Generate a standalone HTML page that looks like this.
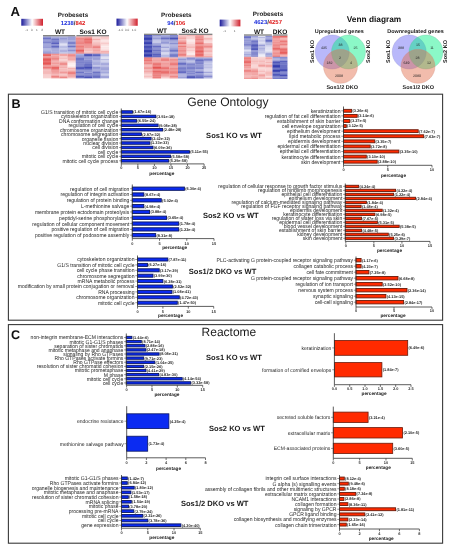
<!DOCTYPE html>
<html><head><meta charset="utf-8"><title>Figure</title>
<style>html,body{margin:0;padding:0;background:#fff;width:453px;height:550px;overflow:hidden;position:relative}</style>
</head><body>
<svg width="453" height="550" viewBox="0 0 453 550" text-rendering="geometricPrecision" style="position:absolute;left:0;top:0;font-family:&quot;Liberation Sans&quot;, Arial, Helvetica, sans-serif">
<rect width="453" height="550" fill="#fff"/>
<text x="10.60" y="16.00" font-size="13.2" text-anchor="start" font-weight="bold" fill="#111">A</text>
<defs><linearGradient id="g1" x1="0" x2="1" y1="0" y2="0"><stop offset="0" stop-color="#1a1a9a"/><stop offset="0.5" stop-color="#ffffff"/><stop offset="1" stop-color="#d0202c"/></linearGradient></defs>
<rect x="21.3" y="18.8" width="21.7" height="6.899999999999999" fill="url(#g1)"/>
<text x="26.60" y="30.90" font-size="3.1" text-anchor="middle" fill="#555">-1</text>
<text x="31.80" y="30.90" font-size="3.1" text-anchor="middle" fill="#555">0</text>
<text x="36.90" y="30.90" font-size="3.1" text-anchor="middle" fill="#555">1</text>
<text x="42.20" y="30.90" font-size="3.1" text-anchor="middle" fill="#555">2</text>
<defs><linearGradient id="g2" x1="0" x2="1" y1="0" y2="0"><stop offset="0" stop-color="#1a1a9a"/><stop offset="0.5" stop-color="#ffffff"/><stop offset="1" stop-color="#d0202c"/></linearGradient></defs>
<rect x="116.5" y="18.6" width="21.19999999999999" height="7.199999999999999" fill="url(#g2)"/>
<text x="120.50" y="31.00" font-size="3.1" text-anchor="middle" fill="#555">-1.0</text>
<text x="127.10" y="31.00" font-size="3.1" text-anchor="middle" fill="#555">0.0</text>
<text x="134.00" y="31.00" font-size="3.1" text-anchor="middle" fill="#555">1.0</text>
<defs><linearGradient id="g3" x1="0" x2="1" y1="0" y2="0"><stop offset="0" stop-color="#1a1a9a"/><stop offset="0.5" stop-color="#ffffff"/><stop offset="1" stop-color="#d0202c"/></linearGradient></defs>
<rect x="219.7" y="19.6" width="20.700000000000017" height="6.799999999999997" fill="url(#g3)"/>
<text x="224.50" y="31.60" font-size="3.1" text-anchor="middle" fill="#555">-1</text>
<text x="234.50" y="31.60" font-size="3.1" text-anchor="middle" fill="#555">1</text>
<text x="73.00" y="16.60" font-size="6.3" text-anchor="middle" font-weight="bold" fill="#1a1a1a">Probesets</text>
<text x="73.00" y="25.00" font-size="5.9" text-anchor="middle" font-weight="bold"><tspan fill="#2233dd">1238</tspan><tspan fill="#222">/</tspan><tspan fill="#e02020">842</tspan></text>
<text x="60.00" y="34.00" font-size="6.5" text-anchor="middle" font-weight="bold" fill="#111">WT</text>
<text x="93.00" y="34.00" font-size="6.5" text-anchor="middle" font-weight="bold" fill="#111">Sos1 KO</text>
<text x="176.30" y="16.60" font-size="6.3" text-anchor="middle" font-weight="bold" fill="#1a1a1a">Probesets</text>
<text x="176.30" y="25.00" font-size="5.9" text-anchor="middle" font-weight="bold"><tspan fill="#2233dd">94</tspan><tspan fill="#222">/</tspan><tspan fill="#e02020">106</tspan></text>
<text x="162.00" y="32.80" font-size="6.5" text-anchor="middle" font-weight="bold" fill="#111">WT</text>
<text x="195.00" y="32.80" font-size="6.5" text-anchor="middle" font-weight="bold" fill="#111">Sos2 KO</text>
<text x="268.00" y="15.90" font-size="6.3" text-anchor="middle" font-weight="bold" fill="#1a1a1a">Probesets</text>
<text x="268.00" y="24.30" font-size="5.9" text-anchor="middle" font-weight="bold"><tspan fill="#2233dd">4623</tspan><tspan fill="#222">/</tspan><tspan fill="#e02020">4257</tspan></text>
<text x="259.00" y="33.50" font-size="6.5" text-anchor="middle" font-weight="bold" fill="#111">WT</text>
<text x="280.00" y="33.50" font-size="6.5" text-anchor="middle" font-weight="bold" fill="#111">DKO</text>
<rect x="43.00" y="36.40" width="8.25" height="1.38" fill="#8086cd"/>
<rect x="43.00" y="37.73" width="8.25" height="1.38" fill="#6c73c5"/>
<rect x="43.00" y="39.06" width="8.25" height="1.38" fill="#888dd0"/>
<rect x="43.00" y="40.39" width="8.25" height="1.38" fill="#7b81cb"/>
<rect x="43.00" y="41.72" width="8.25" height="1.38" fill="#7d83cc"/>
<rect x="43.00" y="43.05" width="8.25" height="1.38" fill="#969bd5"/>
<rect x="43.00" y="44.38" width="8.25" height="1.38" fill="#878dd0"/>
<rect x="43.00" y="45.72" width="8.25" height="1.38" fill="#9fa3d9"/>
<rect x="43.00" y="47.05" width="8.25" height="1.38" fill="#9398d4"/>
<rect x="43.00" y="48.38" width="8.25" height="1.38" fill="#a5aadc"/>
<rect x="43.00" y="49.71" width="8.25" height="1.38" fill="#b1b5e0"/>
<rect x="43.00" y="51.04" width="8.25" height="1.38" fill="#a2a6da"/>
<rect x="43.00" y="52.37" width="8.25" height="1.38" fill="#797fca"/>
<rect x="51.20" y="36.40" width="8.25" height="1.38" fill="#a0a5d9"/>
<rect x="51.20" y="37.73" width="8.25" height="1.38" fill="#8d92d2"/>
<rect x="51.20" y="39.06" width="8.25" height="1.38" fill="#686fc3"/>
<rect x="51.20" y="40.39" width="8.25" height="1.38" fill="#666ec3"/>
<rect x="51.20" y="41.72" width="8.25" height="1.38" fill="#7379c8"/>
<rect x="51.20" y="43.05" width="8.25" height="1.38" fill="#525abb"/>
<rect x="51.20" y="44.38" width="8.25" height="1.38" fill="#7d83cc"/>
<rect x="51.20" y="45.72" width="8.25" height="1.38" fill="#6269c1"/>
<rect x="51.20" y="47.05" width="8.25" height="1.38" fill="#777ec9"/>
<rect x="51.20" y="48.38" width="8.25" height="1.38" fill="#9297d4"/>
<rect x="51.20" y="49.71" width="8.25" height="1.38" fill="#a8acdd"/>
<rect x="51.20" y="51.04" width="8.25" height="1.38" fill="#aaaedd"/>
<rect x="51.20" y="52.37" width="8.25" height="1.38" fill="#878dd0"/>
<rect x="59.40" y="36.40" width="8.25" height="1.38" fill="#a1a6da"/>
<rect x="59.40" y="37.73" width="8.25" height="1.38" fill="#959ad5"/>
<rect x="59.40" y="39.06" width="8.25" height="1.38" fill="#9fa3d9"/>
<rect x="59.40" y="40.39" width="8.25" height="1.38" fill="#9a9ed7"/>
<rect x="59.40" y="41.72" width="8.25" height="1.38" fill="#b9bce3"/>
<rect x="59.40" y="43.05" width="8.25" height="1.38" fill="#d1d3ed"/>
<rect x="59.40" y="44.38" width="8.25" height="1.38" fill="#d8daf0"/>
<rect x="59.40" y="45.72" width="8.25" height="1.38" fill="#bbbee4"/>
<rect x="59.40" y="47.05" width="8.25" height="1.38" fill="#b7bbe3"/>
<rect x="59.40" y="48.38" width="8.25" height="1.38" fill="#bdc0e5"/>
<rect x="59.40" y="49.71" width="8.25" height="1.38" fill="#aeb1df"/>
<rect x="59.40" y="51.04" width="8.25" height="1.38" fill="#acafde"/>
<rect x="59.40" y="52.37" width="8.25" height="1.38" fill="#b5b9e2"/>
<rect x="67.60" y="36.40" width="8.25" height="1.38" fill="#8187cd"/>
<rect x="67.60" y="37.73" width="8.25" height="1.38" fill="#9ba0d8"/>
<rect x="67.60" y="39.06" width="8.25" height="1.38" fill="#979cd6"/>
<rect x="67.60" y="40.39" width="8.25" height="1.38" fill="#979cd6"/>
<rect x="67.60" y="41.72" width="8.25" height="1.38" fill="#7d83cc"/>
<rect x="67.60" y="43.05" width="8.25" height="1.38" fill="#757bc8"/>
<rect x="67.60" y="44.38" width="8.25" height="1.38" fill="#8f94d3"/>
<rect x="67.60" y="45.72" width="8.25" height="1.38" fill="#6f76c6"/>
<rect x="67.60" y="47.05" width="8.25" height="1.38" fill="#979cd6"/>
<rect x="67.60" y="48.38" width="8.25" height="1.38" fill="#9fa3d9"/>
<rect x="67.60" y="49.71" width="8.25" height="1.38" fill="#8c91d1"/>
<rect x="67.60" y="51.04" width="8.25" height="1.38" fill="#aaaedd"/>
<rect x="67.60" y="52.37" width="8.25" height="1.38" fill="#a8acdd"/>
<rect x="75.80" y="36.40" width="8.35" height="1.38" fill="#f09e9d"/>
<rect x="75.80" y="37.73" width="8.35" height="1.38" fill="#ed8a89"/>
<rect x="75.80" y="39.06" width="8.35" height="1.38" fill="#ed8887"/>
<rect x="75.80" y="40.39" width="8.35" height="1.38" fill="#ea7371"/>
<rect x="75.80" y="41.72" width="8.35" height="1.38" fill="#ed8786"/>
<rect x="75.80" y="43.05" width="8.35" height="1.38" fill="#ec7e7d"/>
<rect x="75.80" y="44.38" width="8.35" height="1.38" fill="#ec7d7c"/>
<rect x="75.80" y="45.72" width="8.35" height="1.38" fill="#ec7e7d"/>
<rect x="75.80" y="47.05" width="8.35" height="1.38" fill="#ed8785"/>
<rect x="75.80" y="48.38" width="8.35" height="1.38" fill="#ea7472"/>
<rect x="75.80" y="49.71" width="8.35" height="1.38" fill="#e75f5d"/>
<rect x="75.80" y="51.04" width="8.35" height="1.38" fill="#e96e6d"/>
<rect x="75.80" y="52.37" width="8.35" height="1.38" fill="#e96d6c"/>
<rect x="84.10" y="36.40" width="8.35" height="1.38" fill="#ee8d8c"/>
<rect x="84.10" y="37.73" width="8.35" height="1.38" fill="#ec8281"/>
<rect x="84.10" y="39.06" width="8.35" height="1.38" fill="#e86361"/>
<rect x="84.10" y="40.39" width="8.35" height="1.38" fill="#e65755"/>
<rect x="84.10" y="41.72" width="8.35" height="1.38" fill="#ea7170"/>
<rect x="84.10" y="43.05" width="8.35" height="1.38" fill="#ec7e7d"/>
<rect x="84.10" y="44.38" width="8.35" height="1.38" fill="#ea7574"/>
<rect x="84.10" y="45.72" width="8.35" height="1.38" fill="#f09998"/>
<rect x="84.10" y="47.05" width="8.35" height="1.38" fill="#ef9796"/>
<rect x="84.10" y="48.38" width="8.35" height="1.38" fill="#f2a9a8"/>
<rect x="84.10" y="49.71" width="8.35" height="1.38" fill="#f5bab9"/>
<rect x="84.10" y="51.04" width="8.35" height="1.38" fill="#f7caca"/>
<rect x="84.10" y="52.37" width="8.35" height="1.38" fill="#f2a8a7"/>
<rect x="92.40" y="36.40" width="8.35" height="1.38" fill="#f8cfce"/>
<rect x="92.40" y="37.73" width="8.35" height="1.38" fill="#f8cecd"/>
<rect x="92.40" y="39.06" width="8.35" height="1.38" fill="#f3adac"/>
<rect x="92.40" y="40.39" width="8.35" height="1.38" fill="#f7c9c8"/>
<rect x="92.40" y="41.72" width="8.35" height="1.38" fill="#f6c6c5"/>
<rect x="92.40" y="43.05" width="8.35" height="1.38" fill="#f5bcbc"/>
<rect x="92.40" y="44.38" width="8.35" height="1.38" fill="#f1a09f"/>
<rect x="92.40" y="45.72" width="8.35" height="1.38" fill="#ee8e8d"/>
<rect x="92.40" y="47.05" width="8.35" height="1.38" fill="#ec7e7d"/>
<rect x="92.40" y="48.38" width="8.35" height="1.38" fill="#f09998"/>
<rect x="92.40" y="49.71" width="8.35" height="1.38" fill="#f1a4a3"/>
<rect x="92.40" y="51.04" width="8.35" height="1.38" fill="#f3afaf"/>
<rect x="92.40" y="52.37" width="8.35" height="1.38" fill="#ef9695"/>
<rect x="100.70" y="36.40" width="8.35" height="1.38" fill="#f4b9b8"/>
<rect x="100.70" y="37.73" width="8.35" height="1.38" fill="#f8cdcd"/>
<rect x="100.70" y="39.06" width="8.35" height="1.38" fill="#f9d9d8"/>
<rect x="100.70" y="40.39" width="8.35" height="1.38" fill="#fbe2e1"/>
<rect x="100.70" y="41.72" width="8.35" height="1.38" fill="#f9d8d7"/>
<rect x="100.70" y="43.05" width="8.35" height="1.38" fill="#f7c9c9"/>
<rect x="100.70" y="44.38" width="8.35" height="1.38" fill="#f9d4d3"/>
<rect x="100.70" y="45.72" width="8.35" height="1.38" fill="#fceded"/>
<rect x="100.70" y="47.05" width="8.35" height="1.38" fill="#fbe4e4"/>
<rect x="100.70" y="48.38" width="8.35" height="1.38" fill="#fbe1e1"/>
<rect x="100.70" y="49.71" width="8.35" height="1.38" fill="#f8d2d2"/>
<rect x="100.70" y="51.04" width="8.35" height="1.38" fill="#f3adac"/>
<rect x="100.70" y="52.37" width="8.35" height="1.38" fill="#f1a3a2"/>
<rect x="43.00" y="53.70" width="8.25" height="1.34" fill="#e9706e"/>
<rect x="43.00" y="54.99" width="8.25" height="1.34" fill="#e86664"/>
<rect x="43.00" y="56.29" width="8.25" height="1.34" fill="#ed8887"/>
<rect x="43.00" y="57.58" width="8.25" height="1.34" fill="#e96a68"/>
<rect x="43.00" y="58.88" width="8.25" height="1.34" fill="#e65b59"/>
<rect x="43.00" y="60.17" width="8.25" height="1.34" fill="#e44948"/>
<rect x="43.00" y="61.47" width="8.25" height="1.34" fill="#e34846"/>
<rect x="43.00" y="62.76" width="8.25" height="1.34" fill="#e65654"/>
<rect x="43.00" y="64.06" width="8.25" height="1.34" fill="#e86564"/>
<rect x="43.00" y="65.35" width="8.25" height="1.34" fill="#ed8483"/>
<rect x="43.00" y="66.65" width="8.25" height="1.34" fill="#eb7877"/>
<rect x="43.00" y="67.94" width="8.25" height="1.34" fill="#ef9594"/>
<rect x="43.00" y="69.24" width="8.25" height="1.34" fill="#f2aaa9"/>
<rect x="43.00" y="70.53" width="8.25" height="1.34" fill="#f3b1b0"/>
<rect x="43.00" y="71.83" width="8.25" height="1.34" fill="#f4b9b8"/>
<rect x="43.00" y="73.12" width="8.25" height="1.34" fill="#f4b3b2"/>
<rect x="43.00" y="74.42" width="8.25" height="1.34" fill="#f6c1c1"/>
<rect x="43.00" y="75.71" width="8.25" height="1.34" fill="#f8d0cf"/>
<rect x="43.00" y="77.01" width="8.25" height="1.34" fill="#f8d1d0"/>
<rect x="51.20" y="53.70" width="8.25" height="1.34" fill="#ef9291"/>
<rect x="51.20" y="54.99" width="8.25" height="1.34" fill="#f2abaa"/>
<rect x="51.20" y="56.29" width="8.25" height="1.34" fill="#ed8584"/>
<rect x="51.20" y="57.58" width="8.25" height="1.34" fill="#eb7b79"/>
<rect x="51.20" y="58.88" width="8.25" height="1.34" fill="#ee9190"/>
<rect x="51.20" y="60.17" width="8.25" height="1.34" fill="#f09b9a"/>
<rect x="51.20" y="61.47" width="8.25" height="1.34" fill="#f09c9b"/>
<rect x="51.20" y="62.76" width="8.25" height="1.34" fill="#f09c9b"/>
<rect x="51.20" y="64.06" width="8.25" height="1.34" fill="#f2acab"/>
<rect x="51.20" y="65.35" width="8.25" height="1.34" fill="#ed8887"/>
<rect x="51.20" y="66.65" width="8.25" height="1.34" fill="#e86462"/>
<rect x="51.20" y="67.94" width="8.25" height="1.34" fill="#e96b69"/>
<rect x="51.20" y="69.24" width="8.25" height="1.34" fill="#e96f6e"/>
<rect x="51.20" y="70.53" width="8.25" height="1.34" fill="#ee8d8b"/>
<rect x="51.20" y="71.83" width="8.25" height="1.34" fill="#f1a1a1"/>
<rect x="51.20" y="73.12" width="8.25" height="1.34" fill="#f1a1a0"/>
<rect x="51.20" y="74.42" width="8.25" height="1.34" fill="#f2a6a6"/>
<rect x="51.20" y="75.71" width="8.25" height="1.34" fill="#ed8584"/>
<rect x="51.20" y="77.01" width="8.25" height="1.34" fill="#f09897"/>
<rect x="59.40" y="53.70" width="8.25" height="1.34" fill="#f1a5a4"/>
<rect x="59.40" y="54.99" width="8.25" height="1.34" fill="#f2a5a4"/>
<rect x="59.40" y="56.29" width="8.25" height="1.34" fill="#f5bfbe"/>
<rect x="59.40" y="57.58" width="8.25" height="1.34" fill="#f4b8b7"/>
<rect x="59.40" y="58.88" width="8.25" height="1.34" fill="#f9d4d4"/>
<rect x="59.40" y="60.17" width="8.25" height="1.34" fill="#f7c9c8"/>
<rect x="59.40" y="61.47" width="8.25" height="1.34" fill="#f1a3a2"/>
<rect x="59.40" y="62.76" width="8.25" height="1.34" fill="#ee8e8d"/>
<rect x="59.40" y="64.06" width="8.25" height="1.34" fill="#ed8988"/>
<rect x="59.40" y="65.35" width="8.25" height="1.34" fill="#f1a2a1"/>
<rect x="59.40" y="66.65" width="8.25" height="1.34" fill="#f3aead"/>
<rect x="59.40" y="67.94" width="8.25" height="1.34" fill="#f6c4c3"/>
<rect x="59.40" y="69.24" width="8.25" height="1.34" fill="#f3acab"/>
<rect x="59.40" y="70.53" width="8.25" height="1.34" fill="#f2abaa"/>
<rect x="59.40" y="71.83" width="8.25" height="1.34" fill="#f09998"/>
<rect x="59.40" y="73.12" width="8.25" height="1.34" fill="#f2a9a9"/>
<rect x="59.40" y="74.42" width="8.25" height="1.34" fill="#f5bdbc"/>
<rect x="59.40" y="75.71" width="8.25" height="1.34" fill="#f1a5a4"/>
<rect x="59.40" y="77.01" width="8.25" height="1.34" fill="#ed8786"/>
<rect x="67.60" y="53.70" width="8.25" height="1.34" fill="#ef9695"/>
<rect x="67.60" y="54.99" width="8.25" height="1.34" fill="#ed8a89"/>
<rect x="67.60" y="56.29" width="8.25" height="1.34" fill="#ed8685"/>
<rect x="67.60" y="57.58" width="8.25" height="1.34" fill="#f1a5a4"/>
<rect x="67.60" y="58.88" width="8.25" height="1.34" fill="#f2a9a8"/>
<rect x="67.60" y="60.17" width="8.25" height="1.34" fill="#f4b7b6"/>
<rect x="67.60" y="61.47" width="8.25" height="1.34" fill="#f9d6d6"/>
<rect x="67.60" y="62.76" width="8.25" height="1.34" fill="#fceeee"/>
<rect x="67.60" y="64.06" width="8.25" height="1.34" fill="#fdefef"/>
<rect x="67.60" y="65.35" width="8.25" height="1.34" fill="#fdf0ef"/>
<rect x="67.60" y="66.65" width="8.25" height="1.34" fill="#f9d7d7"/>
<rect x="67.60" y="67.94" width="8.25" height="1.34" fill="#f3b2b1"/>
<rect x="67.60" y="69.24" width="8.25" height="1.34" fill="#f4b7b6"/>
<rect x="67.60" y="70.53" width="8.25" height="1.34" fill="#f09b9a"/>
<rect x="67.60" y="71.83" width="8.25" height="1.34" fill="#ec8381"/>
<rect x="67.60" y="73.12" width="8.25" height="1.34" fill="#ea7271"/>
<rect x="67.60" y="74.42" width="8.25" height="1.34" fill="#ee8d8c"/>
<rect x="67.60" y="75.71" width="8.25" height="1.34" fill="#f2abaa"/>
<rect x="67.60" y="77.01" width="8.25" height="1.34" fill="#f6c0c0"/>
<rect x="75.80" y="53.70" width="8.35" height="1.34" fill="#adb1df"/>
<rect x="75.80" y="54.99" width="8.35" height="1.34" fill="#9ba0d7"/>
<rect x="75.80" y="56.29" width="8.35" height="1.34" fill="#797fca"/>
<rect x="75.80" y="57.58" width="8.35" height="1.34" fill="#646bc2"/>
<rect x="75.80" y="58.88" width="8.35" height="1.34" fill="#6f75c6"/>
<rect x="75.80" y="60.17" width="8.35" height="1.34" fill="#6a71c4"/>
<rect x="75.80" y="61.47" width="8.35" height="1.34" fill="#5c63be"/>
<rect x="75.80" y="62.76" width="8.35" height="1.34" fill="#858bcf"/>
<rect x="75.80" y="64.06" width="8.35" height="1.34" fill="#7b81cb"/>
<rect x="75.80" y="65.35" width="8.35" height="1.34" fill="#6068c0"/>
<rect x="75.80" y="66.65" width="8.35" height="1.34" fill="#565ebc"/>
<rect x="75.80" y="67.94" width="8.35" height="1.34" fill="#5058ba"/>
<rect x="75.80" y="69.24" width="8.35" height="1.34" fill="#6067c0"/>
<rect x="75.80" y="70.53" width="8.35" height="1.34" fill="#8287cd"/>
<rect x="75.80" y="71.83" width="8.35" height="1.34" fill="#6e75c6"/>
<rect x="75.80" y="73.12" width="8.35" height="1.34" fill="#8187cd"/>
<rect x="75.80" y="74.42" width="8.35" height="1.34" fill="#6d74c5"/>
<rect x="75.80" y="75.71" width="8.35" height="1.34" fill="#515aba"/>
<rect x="75.80" y="77.01" width="8.35" height="1.34" fill="#676ec3"/>
<rect x="84.10" y="53.70" width="8.35" height="1.34" fill="#555dbc"/>
<rect x="84.10" y="54.99" width="8.35" height="1.34" fill="#4c54b8"/>
<rect x="84.10" y="56.29" width="8.35" height="1.34" fill="#6d74c5"/>
<rect x="84.10" y="57.58" width="8.35" height="1.34" fill="#898fd1"/>
<rect x="84.10" y="58.88" width="8.35" height="1.34" fill="#9da1d8"/>
<rect x="84.10" y="60.17" width="8.35" height="1.34" fill="#747bc8"/>
<rect x="84.10" y="61.47" width="8.35" height="1.34" fill="#5d65bf"/>
<rect x="84.10" y="62.76" width="8.35" height="1.34" fill="#7c82cb"/>
<rect x="84.10" y="64.06" width="8.35" height="1.34" fill="#6169c1"/>
<rect x="84.10" y="65.35" width="8.35" height="1.34" fill="#424bb4"/>
<rect x="84.10" y="66.65" width="8.35" height="1.34" fill="#424bb4"/>
<rect x="84.10" y="67.94" width="8.35" height="1.34" fill="#5961bd"/>
<rect x="84.10" y="69.24" width="8.35" height="1.34" fill="#5b63be"/>
<rect x="84.10" y="70.53" width="8.35" height="1.34" fill="#7c82cb"/>
<rect x="84.10" y="71.83" width="8.35" height="1.34" fill="#9da1d8"/>
<rect x="84.10" y="73.12" width="8.35" height="1.34" fill="#6f76c6"/>
<rect x="84.10" y="74.42" width="8.35" height="1.34" fill="#656cc2"/>
<rect x="84.10" y="75.71" width="8.35" height="1.34" fill="#666dc3"/>
<rect x="84.10" y="77.01" width="8.35" height="1.34" fill="#4952b7"/>
<rect x="92.40" y="53.70" width="8.35" height="1.34" fill="#6f75c6"/>
<rect x="92.40" y="54.99" width="8.35" height="1.34" fill="#5d64bf"/>
<rect x="92.40" y="56.29" width="8.35" height="1.34" fill="#7c82cb"/>
<rect x="92.40" y="57.58" width="8.35" height="1.34" fill="#9196d4"/>
<rect x="92.40" y="58.88" width="8.35" height="1.34" fill="#9ea2d8"/>
<rect x="92.40" y="60.17" width="8.35" height="1.34" fill="#abafde"/>
<rect x="92.40" y="61.47" width="8.35" height="1.34" fill="#9ba0d8"/>
<rect x="92.40" y="62.76" width="8.35" height="1.34" fill="#a8acdd"/>
<rect x="92.40" y="64.06" width="8.35" height="1.34" fill="#a5aadc"/>
<rect x="92.40" y="65.35" width="8.35" height="1.34" fill="#b9bce3"/>
<rect x="92.40" y="66.65" width="8.35" height="1.34" fill="#8e93d2"/>
<rect x="92.40" y="67.94" width="8.35" height="1.34" fill="#979cd6"/>
<rect x="92.40" y="69.24" width="8.35" height="1.34" fill="#969bd5"/>
<rect x="92.40" y="70.53" width="8.35" height="1.34" fill="#8c91d2"/>
<rect x="92.40" y="71.83" width="8.35" height="1.34" fill="#6d74c5"/>
<rect x="92.40" y="73.12" width="8.35" height="1.34" fill="#7980ca"/>
<rect x="92.40" y="74.42" width="8.35" height="1.34" fill="#5e66bf"/>
<rect x="92.40" y="75.71" width="8.35" height="1.34" fill="#686fc3"/>
<rect x="92.40" y="77.01" width="8.35" height="1.34" fill="#6d74c5"/>
<rect x="100.70" y="53.70" width="8.35" height="1.34" fill="#bec1e5"/>
<rect x="100.70" y="54.99" width="8.35" height="1.34" fill="#babde4"/>
<rect x="100.70" y="56.29" width="8.35" height="1.34" fill="#caccea"/>
<rect x="100.70" y="57.58" width="8.35" height="1.34" fill="#e3e4f4"/>
<rect x="100.70" y="58.88" width="8.35" height="1.34" fill="#bbbee4"/>
<rect x="100.70" y="60.17" width="8.35" height="1.34" fill="#cbceeb"/>
<rect x="100.70" y="61.47" width="8.35" height="1.34" fill="#c1c4e7"/>
<rect x="100.70" y="62.76" width="8.35" height="1.34" fill="#a8acdc"/>
<rect x="100.70" y="64.06" width="8.35" height="1.34" fill="#a1a5da"/>
<rect x="100.70" y="65.35" width="8.35" height="1.34" fill="#acb0de"/>
<rect x="100.70" y="66.65" width="8.35" height="1.34" fill="#a7abdc"/>
<rect x="100.70" y="67.94" width="8.35" height="1.34" fill="#a0a5d9"/>
<rect x="100.70" y="69.24" width="8.35" height="1.34" fill="#8a90d1"/>
<rect x="100.70" y="70.53" width="8.35" height="1.34" fill="#acafde"/>
<rect x="100.70" y="71.83" width="8.35" height="1.34" fill="#a3a8db"/>
<rect x="100.70" y="73.12" width="8.35" height="1.34" fill="#b4b7e1"/>
<rect x="100.70" y="74.42" width="8.35" height="1.34" fill="#bec1e5"/>
<rect x="100.70" y="75.71" width="8.35" height="1.34" fill="#a2a6da"/>
<rect x="100.70" y="77.01" width="8.35" height="1.34" fill="#a0a4d9"/>
<rect x="43.00" y="35.10" width="32.20" height="1.2" fill="#777"/>
<rect x="76.40" y="35.10" width="32.60" height="1.2" fill="#777"/>
<rect x="144.00" y="35.10" width="8.55" height="1.37" fill="#3d46b2"/>
<rect x="144.00" y="36.42" width="8.55" height="1.37" fill="#333cae"/>
<rect x="144.00" y="37.74" width="8.55" height="1.37" fill="#343eaf"/>
<rect x="144.00" y="39.05" width="8.55" height="1.37" fill="#343daf"/>
<rect x="144.00" y="40.37" width="8.55" height="1.37" fill="#3b44b2"/>
<rect x="144.00" y="41.69" width="8.55" height="1.37" fill="#4049b4"/>
<rect x="144.00" y="43.01" width="8.55" height="1.37" fill="#3740b0"/>
<rect x="144.00" y="44.32" width="8.55" height="1.37" fill="#414ab4"/>
<rect x="144.00" y="45.64" width="8.55" height="1.37" fill="#434cb5"/>
<rect x="144.00" y="46.96" width="8.55" height="1.37" fill="#4951b7"/>
<rect x="144.00" y="48.28" width="8.55" height="1.37" fill="#333cae"/>
<rect x="144.00" y="49.59" width="8.55" height="1.37" fill="#333cae"/>
<rect x="144.00" y="50.91" width="8.55" height="1.37" fill="#333cae"/>
<rect x="144.00" y="52.23" width="8.55" height="1.37" fill="#333cae"/>
<rect x="144.00" y="53.55" width="8.55" height="1.37" fill="#333cae"/>
<rect x="144.00" y="54.86" width="8.55" height="1.37" fill="#333cae"/>
<rect x="144.00" y="56.18" width="8.55" height="1.37" fill="#333cae"/>
<rect x="152.50" y="35.10" width="8.55" height="1.37" fill="#848ace"/>
<rect x="152.50" y="36.42" width="8.55" height="1.37" fill="#9da1d8"/>
<rect x="152.50" y="37.74" width="8.55" height="1.37" fill="#989dd6"/>
<rect x="152.50" y="39.05" width="8.55" height="1.37" fill="#b0b4e0"/>
<rect x="152.50" y="40.37" width="8.55" height="1.37" fill="#b5b9e2"/>
<rect x="152.50" y="41.69" width="8.55" height="1.37" fill="#c6c8e8"/>
<rect x="152.50" y="43.01" width="8.55" height="1.37" fill="#a6aadc"/>
<rect x="152.50" y="44.32" width="8.55" height="1.37" fill="#868ccf"/>
<rect x="152.50" y="45.64" width="8.55" height="1.37" fill="#666dc3"/>
<rect x="152.50" y="46.96" width="8.55" height="1.37" fill="#848ace"/>
<rect x="152.50" y="48.28" width="8.55" height="1.37" fill="#7278c7"/>
<rect x="152.50" y="49.59" width="8.55" height="1.37" fill="#686fc3"/>
<rect x="152.50" y="50.91" width="8.55" height="1.37" fill="#878ccf"/>
<rect x="152.50" y="52.23" width="8.55" height="1.37" fill="#676ec3"/>
<rect x="152.50" y="53.55" width="8.55" height="1.37" fill="#4a52b7"/>
<rect x="152.50" y="54.86" width="8.55" height="1.37" fill="#6a71c4"/>
<rect x="152.50" y="56.18" width="8.55" height="1.37" fill="#4d55b9"/>
<rect x="161.00" y="35.10" width="8.55" height="1.37" fill="#9ea2d9"/>
<rect x="161.00" y="36.42" width="8.55" height="1.37" fill="#787fca"/>
<rect x="161.00" y="37.74" width="8.55" height="1.37" fill="#686fc3"/>
<rect x="161.00" y="39.05" width="8.55" height="1.37" fill="#8d92d2"/>
<rect x="161.00" y="40.37" width="8.55" height="1.37" fill="#9499d5"/>
<rect x="161.00" y="41.69" width="8.55" height="1.37" fill="#9499d5"/>
<rect x="161.00" y="43.01" width="8.55" height="1.37" fill="#a1a5da"/>
<rect x="161.00" y="44.32" width="8.55" height="1.37" fill="#b5b8e2"/>
<rect x="161.00" y="45.64" width="8.55" height="1.37" fill="#bbbee4"/>
<rect x="161.00" y="46.96" width="8.55" height="1.37" fill="#a2a6da"/>
<rect x="161.00" y="48.28" width="8.55" height="1.37" fill="#c2c5e7"/>
<rect x="161.00" y="49.59" width="8.55" height="1.37" fill="#b4b7e1"/>
<rect x="161.00" y="50.91" width="8.55" height="1.37" fill="#b1b5e0"/>
<rect x="161.00" y="52.23" width="8.55" height="1.37" fill="#ced0ec"/>
<rect x="161.00" y="53.55" width="8.55" height="1.37" fill="#cdcfeb"/>
<rect x="161.00" y="54.86" width="8.55" height="1.37" fill="#b7bae2"/>
<rect x="161.00" y="56.18" width="8.55" height="1.37" fill="#aeb2df"/>
<rect x="169.50" y="35.10" width="8.55" height="1.37" fill="#747ac8"/>
<rect x="169.50" y="36.42" width="8.55" height="1.37" fill="#626ac1"/>
<rect x="169.50" y="37.74" width="8.55" height="1.37" fill="#4850b7"/>
<rect x="169.50" y="39.05" width="8.55" height="1.37" fill="#737ac8"/>
<rect x="169.50" y="40.37" width="8.55" height="1.37" fill="#888ed0"/>
<rect x="169.50" y="41.69" width="8.55" height="1.37" fill="#a8acdd"/>
<rect x="169.50" y="43.01" width="8.55" height="1.37" fill="#8b90d1"/>
<rect x="169.50" y="44.32" width="8.55" height="1.37" fill="#999ed7"/>
<rect x="169.50" y="45.64" width="8.55" height="1.37" fill="#afb2df"/>
<rect x="169.50" y="46.96" width="8.55" height="1.37" fill="#a9addd"/>
<rect x="169.50" y="48.28" width="8.55" height="1.37" fill="#8187cd"/>
<rect x="169.50" y="49.59" width="8.55" height="1.37" fill="#6a71c4"/>
<rect x="169.50" y="50.91" width="8.55" height="1.37" fill="#8288ce"/>
<rect x="169.50" y="52.23" width="8.55" height="1.37" fill="#9ca0d8"/>
<rect x="169.50" y="53.55" width="8.55" height="1.37" fill="#777dc9"/>
<rect x="169.50" y="54.86" width="8.55" height="1.37" fill="#747bc8"/>
<rect x="169.50" y="56.18" width="8.55" height="1.37" fill="#6970c4"/>
<rect x="178.00" y="35.10" width="8.65" height="1.37" fill="#f5bebd"/>
<rect x="178.00" y="36.42" width="8.65" height="1.37" fill="#f2a6a5"/>
<rect x="178.00" y="37.74" width="8.65" height="1.37" fill="#f1a5a4"/>
<rect x="178.00" y="39.05" width="8.65" height="1.37" fill="#f5bcbb"/>
<rect x="178.00" y="40.37" width="8.65" height="1.37" fill="#ef9493"/>
<rect x="178.00" y="41.69" width="8.65" height="1.37" fill="#ed8a89"/>
<rect x="178.00" y="43.01" width="8.65" height="1.37" fill="#eb7776"/>
<rect x="178.00" y="44.32" width="8.65" height="1.37" fill="#f09997"/>
<rect x="178.00" y="45.64" width="8.65" height="1.37" fill="#ec7f7d"/>
<rect x="178.00" y="46.96" width="8.65" height="1.37" fill="#f19f9e"/>
<rect x="178.00" y="48.28" width="8.65" height="1.37" fill="#ec8382"/>
<rect x="178.00" y="49.59" width="8.65" height="1.37" fill="#ed8988"/>
<rect x="178.00" y="50.91" width="8.65" height="1.37" fill="#ef9594"/>
<rect x="178.00" y="52.23" width="8.65" height="1.37" fill="#ee908f"/>
<rect x="178.00" y="53.55" width="8.65" height="1.37" fill="#ea7473"/>
<rect x="178.00" y="54.86" width="8.65" height="1.37" fill="#ed8a89"/>
<rect x="178.00" y="56.18" width="8.65" height="1.37" fill="#f1a4a3"/>
<rect x="186.60" y="35.10" width="8.65" height="1.37" fill="#f3aeae"/>
<rect x="186.60" y="36.42" width="8.65" height="1.37" fill="#f6c4c4"/>
<rect x="186.60" y="37.74" width="8.65" height="1.37" fill="#f8d1d0"/>
<rect x="186.60" y="39.05" width="8.65" height="1.37" fill="#fbe2e2"/>
<rect x="186.60" y="40.37" width="8.65" height="1.37" fill="#fbe5e4"/>
<rect x="186.60" y="41.69" width="8.65" height="1.37" fill="#fadfdf"/>
<rect x="186.60" y="43.01" width="8.65" height="1.37" fill="#fadcdc"/>
<rect x="186.60" y="44.32" width="8.65" height="1.37" fill="#f5bcbb"/>
<rect x="186.60" y="45.64" width="8.65" height="1.37" fill="#f6c2c1"/>
<rect x="186.60" y="46.96" width="8.65" height="1.37" fill="#f5b9b8"/>
<rect x="186.60" y="48.28" width="8.65" height="1.37" fill="#f7c8c7"/>
<rect x="186.60" y="49.59" width="8.65" height="1.37" fill="#f7c7c7"/>
<rect x="186.60" y="50.91" width="8.65" height="1.37" fill="#fadddc"/>
<rect x="186.60" y="52.23" width="8.65" height="1.37" fill="#fadedd"/>
<rect x="186.60" y="53.55" width="8.65" height="1.37" fill="#fceeed"/>
<rect x="186.60" y="54.86" width="8.65" height="1.37" fill="#f7cbca"/>
<rect x="186.60" y="56.18" width="8.65" height="1.37" fill="#f5bcbb"/>
<rect x="195.20" y="35.10" width="8.65" height="1.37" fill="#ef9695"/>
<rect x="195.20" y="36.42" width="8.65" height="1.37" fill="#ea7675"/>
<rect x="195.20" y="37.74" width="8.65" height="1.37" fill="#ef9493"/>
<rect x="195.20" y="39.05" width="8.65" height="1.37" fill="#eb7c7b"/>
<rect x="195.20" y="40.37" width="8.65" height="1.37" fill="#ec8382"/>
<rect x="195.20" y="41.69" width="8.65" height="1.37" fill="#ed8583"/>
<rect x="195.20" y="43.01" width="8.65" height="1.37" fill="#e96f6e"/>
<rect x="195.20" y="44.32" width="8.65" height="1.37" fill="#eb7c7b"/>
<rect x="195.20" y="45.64" width="8.65" height="1.37" fill="#ec7f7d"/>
<rect x="195.20" y="46.96" width="8.65" height="1.37" fill="#ea7573"/>
<rect x="195.20" y="48.28" width="8.65" height="1.37" fill="#e65a58"/>
<rect x="195.20" y="49.59" width="8.65" height="1.37" fill="#e96f6e"/>
<rect x="195.20" y="50.91" width="8.65" height="1.37" fill="#e7605e"/>
<rect x="195.20" y="52.23" width="8.65" height="1.37" fill="#e65c5a"/>
<rect x="195.20" y="53.55" width="8.65" height="1.37" fill="#e75e5c"/>
<rect x="195.20" y="54.86" width="8.65" height="1.37" fill="#e96e6d"/>
<rect x="195.20" y="56.18" width="8.65" height="1.37" fill="#ec7f7d"/>
<rect x="203.80" y="35.10" width="8.65" height="1.37" fill="#f6c6c6"/>
<rect x="203.80" y="36.42" width="8.65" height="1.37" fill="#f9d8d7"/>
<rect x="203.80" y="37.74" width="8.65" height="1.37" fill="#f4b9b8"/>
<rect x="203.80" y="39.05" width="8.65" height="1.37" fill="#f6c1c0"/>
<rect x="203.80" y="40.37" width="8.65" height="1.37" fill="#f8cecd"/>
<rect x="203.80" y="41.69" width="8.65" height="1.37" fill="#fadcdc"/>
<rect x="203.80" y="43.01" width="8.65" height="1.37" fill="#f4b5b5"/>
<rect x="203.80" y="44.32" width="8.65" height="1.37" fill="#ef9695"/>
<rect x="203.80" y="45.64" width="8.65" height="1.37" fill="#ee8c8b"/>
<rect x="203.80" y="46.96" width="8.65" height="1.37" fill="#f09e9d"/>
<rect x="203.80" y="48.28" width="8.65" height="1.37" fill="#f3aead"/>
<rect x="203.80" y="49.59" width="8.65" height="1.37" fill="#f4b7b6"/>
<rect x="203.80" y="50.91" width="8.65" height="1.37" fill="#f4b2b2"/>
<rect x="203.80" y="52.23" width="8.65" height="1.37" fill="#f6c3c2"/>
<rect x="203.80" y="53.55" width="8.65" height="1.37" fill="#f5bcbc"/>
<rect x="203.80" y="54.86" width="8.65" height="1.37" fill="#f6c4c3"/>
<rect x="203.80" y="56.18" width="8.65" height="1.37" fill="#f09b9a"/>
<rect x="144.00" y="57.50" width="8.55" height="1.36" fill="#e9706e"/>
<rect x="144.00" y="58.81" width="8.55" height="1.36" fill="#ed8685"/>
<rect x="144.00" y="60.11" width="8.55" height="1.36" fill="#e86867"/>
<rect x="144.00" y="61.42" width="8.55" height="1.36" fill="#eb7c7b"/>
<rect x="144.00" y="62.73" width="8.55" height="1.36" fill="#ed8987"/>
<rect x="144.00" y="64.03" width="8.55" height="1.36" fill="#f2a9a8"/>
<rect x="144.00" y="65.34" width="8.55" height="1.36" fill="#f2a8a7"/>
<rect x="144.00" y="66.64" width="8.55" height="1.36" fill="#f1a2a1"/>
<rect x="144.00" y="67.95" width="8.55" height="1.36" fill="#f09b9a"/>
<rect x="144.00" y="69.26" width="8.55" height="1.36" fill="#f2aaa9"/>
<rect x="144.00" y="70.56" width="8.55" height="1.36" fill="#f1a1a0"/>
<rect x="144.00" y="71.87" width="8.55" height="1.36" fill="#f5bbba"/>
<rect x="144.00" y="73.18" width="8.55" height="1.36" fill="#f5bdbd"/>
<rect x="144.00" y="74.48" width="8.55" height="1.36" fill="#f7cbca"/>
<rect x="144.00" y="75.79" width="8.55" height="1.36" fill="#f6c1c0"/>
<rect x="144.00" y="77.09" width="8.55" height="1.36" fill="#f8d0d0"/>
<rect x="152.50" y="57.50" width="8.55" height="1.36" fill="#f1a1a0"/>
<rect x="152.50" y="58.81" width="8.55" height="1.36" fill="#f2aaa9"/>
<rect x="152.50" y="60.11" width="8.55" height="1.36" fill="#f09a99"/>
<rect x="152.50" y="61.42" width="8.55" height="1.36" fill="#ef9290"/>
<rect x="152.50" y="62.73" width="8.55" height="1.36" fill="#eb7d7b"/>
<rect x="152.50" y="64.03" width="8.55" height="1.36" fill="#ea7372"/>
<rect x="152.50" y="65.34" width="8.55" height="1.36" fill="#e86866"/>
<rect x="152.50" y="66.64" width="8.55" height="1.36" fill="#e55553"/>
<rect x="152.50" y="67.95" width="8.55" height="1.36" fill="#e86765"/>
<rect x="152.50" y="69.26" width="8.55" height="1.36" fill="#eb7977"/>
<rect x="152.50" y="70.56" width="8.55" height="1.36" fill="#e65a59"/>
<rect x="152.50" y="71.87" width="8.55" height="1.36" fill="#eb7b79"/>
<rect x="152.50" y="73.18" width="8.55" height="1.36" fill="#e96d6c"/>
<rect x="152.50" y="74.48" width="8.55" height="1.36" fill="#e86867"/>
<rect x="152.50" y="75.79" width="8.55" height="1.36" fill="#ee8c8b"/>
<rect x="152.50" y="77.09" width="8.55" height="1.36" fill="#ea7372"/>
<rect x="161.00" y="57.50" width="8.55" height="1.36" fill="#ee8d8c"/>
<rect x="161.00" y="58.81" width="8.55" height="1.36" fill="#ec8483"/>
<rect x="161.00" y="60.11" width="8.55" height="1.36" fill="#eb7877"/>
<rect x="161.00" y="61.42" width="8.55" height="1.36" fill="#f09b9a"/>
<rect x="161.00" y="62.73" width="8.55" height="1.36" fill="#f09c9b"/>
<rect x="161.00" y="64.03" width="8.55" height="1.36" fill="#f19f9e"/>
<rect x="161.00" y="65.34" width="8.55" height="1.36" fill="#ed8a89"/>
<rect x="161.00" y="66.64" width="8.55" height="1.36" fill="#ec7d7c"/>
<rect x="161.00" y="67.95" width="8.55" height="1.36" fill="#ea7271"/>
<rect x="161.00" y="69.26" width="8.55" height="1.36" fill="#eb7a78"/>
<rect x="161.00" y="70.56" width="8.55" height="1.36" fill="#e96b6a"/>
<rect x="161.00" y="71.87" width="8.55" height="1.36" fill="#e96e6c"/>
<rect x="161.00" y="73.18" width="8.55" height="1.36" fill="#e96f6e"/>
<rect x="161.00" y="74.48" width="8.55" height="1.36" fill="#ee8f8e"/>
<rect x="161.00" y="75.79" width="8.55" height="1.36" fill="#f4b3b3"/>
<rect x="161.00" y="77.09" width="8.55" height="1.36" fill="#f7c8c8"/>
<rect x="169.50" y="57.50" width="8.55" height="1.36" fill="#f3afae"/>
<rect x="169.50" y="58.81" width="8.55" height="1.36" fill="#ee9190"/>
<rect x="169.50" y="60.11" width="8.55" height="1.36" fill="#ee8d8b"/>
<rect x="169.50" y="61.42" width="8.55" height="1.36" fill="#ed8584"/>
<rect x="169.50" y="62.73" width="8.55" height="1.36" fill="#ec7f7e"/>
<rect x="169.50" y="64.03" width="8.55" height="1.36" fill="#eb7776"/>
<rect x="169.50" y="65.34" width="8.55" height="1.36" fill="#ec7e7d"/>
<rect x="169.50" y="66.64" width="8.55" height="1.36" fill="#f1a3a2"/>
<rect x="169.50" y="67.95" width="8.55" height="1.36" fill="#ed8a89"/>
<rect x="169.50" y="69.26" width="8.55" height="1.36" fill="#eb7b7a"/>
<rect x="169.50" y="70.56" width="8.55" height="1.36" fill="#ec807f"/>
<rect x="169.50" y="71.87" width="8.55" height="1.36" fill="#ec8180"/>
<rect x="169.50" y="73.18" width="8.55" height="1.36" fill="#eb7a79"/>
<rect x="169.50" y="74.48" width="8.55" height="1.36" fill="#f09c9b"/>
<rect x="169.50" y="75.79" width="8.55" height="1.36" fill="#ed8988"/>
<rect x="169.50" y="77.09" width="8.55" height="1.36" fill="#f09b9a"/>
<rect x="178.00" y="57.50" width="8.65" height="1.36" fill="#acb0de"/>
<rect x="178.00" y="58.81" width="8.65" height="1.36" fill="#9297d4"/>
<rect x="178.00" y="60.11" width="8.65" height="1.36" fill="#a5a9db"/>
<rect x="178.00" y="61.42" width="8.65" height="1.36" fill="#8c91d1"/>
<rect x="178.00" y="62.73" width="8.65" height="1.36" fill="#686fc3"/>
<rect x="178.00" y="64.03" width="8.65" height="1.36" fill="#7076c6"/>
<rect x="178.00" y="65.34" width="8.65" height="1.36" fill="#7e84cc"/>
<rect x="178.00" y="66.64" width="8.65" height="1.36" fill="#8288cd"/>
<rect x="178.00" y="67.95" width="8.65" height="1.36" fill="#767cc9"/>
<rect x="178.00" y="69.26" width="8.65" height="1.36" fill="#666dc3"/>
<rect x="178.00" y="70.56" width="8.65" height="1.36" fill="#666dc2"/>
<rect x="178.00" y="71.87" width="8.65" height="1.36" fill="#646bc2"/>
<rect x="178.00" y="73.18" width="8.65" height="1.36" fill="#8b91d1"/>
<rect x="178.00" y="74.48" width="8.65" height="1.36" fill="#a4a8db"/>
<rect x="178.00" y="75.79" width="8.65" height="1.36" fill="#afb2df"/>
<rect x="178.00" y="77.09" width="8.65" height="1.36" fill="#9398d4"/>
<rect x="186.60" y="57.50" width="8.65" height="1.36" fill="#767cc9"/>
<rect x="186.60" y="58.81" width="8.65" height="1.36" fill="#989dd6"/>
<rect x="186.60" y="60.11" width="8.65" height="1.36" fill="#aeb2df"/>
<rect x="186.60" y="61.42" width="8.65" height="1.36" fill="#b0b4e0"/>
<rect x="186.60" y="62.73" width="8.65" height="1.36" fill="#9499d5"/>
<rect x="186.60" y="64.03" width="8.65" height="1.36" fill="#7d83cc"/>
<rect x="186.60" y="65.34" width="8.65" height="1.36" fill="#6d74c5"/>
<rect x="186.60" y="66.64" width="8.65" height="1.36" fill="#7d83cc"/>
<rect x="186.60" y="67.95" width="8.65" height="1.36" fill="#797fca"/>
<rect x="186.60" y="69.26" width="8.65" height="1.36" fill="#7a80ca"/>
<rect x="186.60" y="70.56" width="8.65" height="1.36" fill="#7a80ca"/>
<rect x="186.60" y="71.87" width="8.65" height="1.36" fill="#9499d5"/>
<rect x="186.60" y="73.18" width="8.65" height="1.36" fill="#6e75c6"/>
<rect x="186.60" y="74.48" width="8.65" height="1.36" fill="#858bcf"/>
<rect x="186.60" y="75.79" width="8.65" height="1.36" fill="#5d65bf"/>
<rect x="186.60" y="77.09" width="8.65" height="1.36" fill="#424bb4"/>
<rect x="195.20" y="57.50" width="8.65" height="1.36" fill="#989dd6"/>
<rect x="195.20" y="58.81" width="8.65" height="1.36" fill="#7a81cb"/>
<rect x="195.20" y="60.11" width="8.65" height="1.36" fill="#5961bd"/>
<rect x="195.20" y="61.42" width="8.65" height="1.36" fill="#666dc3"/>
<rect x="195.20" y="62.73" width="8.65" height="1.36" fill="#7d83cc"/>
<rect x="195.20" y="64.03" width="8.65" height="1.36" fill="#9297d4"/>
<rect x="195.20" y="65.34" width="8.65" height="1.36" fill="#6d74c5"/>
<rect x="195.20" y="66.64" width="8.65" height="1.36" fill="#868ccf"/>
<rect x="195.20" y="67.95" width="8.65" height="1.36" fill="#7e84cc"/>
<rect x="195.20" y="69.26" width="8.65" height="1.36" fill="#989dd6"/>
<rect x="195.20" y="70.56" width="8.65" height="1.36" fill="#9095d3"/>
<rect x="195.20" y="71.87" width="8.65" height="1.36" fill="#6a71c4"/>
<rect x="195.20" y="73.18" width="8.65" height="1.36" fill="#8a90d1"/>
<rect x="195.20" y="74.48" width="8.65" height="1.36" fill="#7076c6"/>
<rect x="195.20" y="75.79" width="8.65" height="1.36" fill="#7379c8"/>
<rect x="195.20" y="77.09" width="8.65" height="1.36" fill="#5961bd"/>
<rect x="203.80" y="57.50" width="8.65" height="1.36" fill="#9da2d8"/>
<rect x="203.80" y="58.81" width="8.65" height="1.36" fill="#7e84cc"/>
<rect x="203.80" y="60.11" width="8.65" height="1.36" fill="#848ace"/>
<rect x="203.80" y="61.42" width="8.65" height="1.36" fill="#abafde"/>
<rect x="203.80" y="62.73" width="8.65" height="1.36" fill="#c9ccea"/>
<rect x="203.80" y="64.03" width="8.65" height="1.36" fill="#bcc0e5"/>
<rect x="203.80" y="65.34" width="8.65" height="1.36" fill="#b6b9e2"/>
<rect x="203.80" y="66.64" width="8.65" height="1.36" fill="#bcbfe4"/>
<rect x="203.80" y="67.95" width="8.65" height="1.36" fill="#ccceeb"/>
<rect x="203.80" y="69.26" width="8.65" height="1.36" fill="#c9ccea"/>
<rect x="203.80" y="70.56" width="8.65" height="1.36" fill="#c9ccea"/>
<rect x="203.80" y="71.87" width="8.65" height="1.36" fill="#a3a7db"/>
<rect x="203.80" y="73.18" width="8.65" height="1.36" fill="#c3c6e7"/>
<rect x="203.80" y="74.48" width="8.65" height="1.36" fill="#a5a9db"/>
<rect x="203.80" y="75.79" width="8.65" height="1.36" fill="#888dd0"/>
<rect x="203.80" y="77.09" width="8.65" height="1.36" fill="#a7abdc"/>
<rect x="144.00" y="33.70" width="33.40" height="1.2" fill="#777"/>
<rect x="178.60" y="33.70" width="33.80" height="1.2" fill="#777"/>
<rect x="244.00" y="35.70" width="7.17" height="1.37" fill="#7a80ca"/>
<rect x="244.00" y="37.02" width="7.17" height="1.37" fill="#666dc2"/>
<rect x="244.00" y="38.34" width="7.17" height="1.37" fill="#8389ce"/>
<rect x="244.00" y="39.66" width="7.17" height="1.37" fill="#9398d4"/>
<rect x="244.00" y="40.98" width="7.17" height="1.37" fill="#9ea2d9"/>
<rect x="244.00" y="42.29" width="7.17" height="1.37" fill="#7a80ca"/>
<rect x="244.00" y="43.61" width="7.17" height="1.37" fill="#7c82cb"/>
<rect x="244.00" y="44.93" width="7.17" height="1.37" fill="#8f94d3"/>
<rect x="244.00" y="46.25" width="7.17" height="1.37" fill="#989dd6"/>
<rect x="244.00" y="47.57" width="7.17" height="1.37" fill="#aaaedd"/>
<rect x="244.00" y="48.89" width="7.17" height="1.37" fill="#c8cbe9"/>
<rect x="244.00" y="50.21" width="7.17" height="1.37" fill="#dbdcf1"/>
<rect x="244.00" y="51.52" width="7.17" height="1.37" fill="#b3b7e1"/>
<rect x="244.00" y="52.84" width="7.17" height="1.37" fill="#bec1e5"/>
<rect x="244.00" y="54.16" width="7.17" height="1.37" fill="#969bd5"/>
<rect x="244.00" y="55.48" width="7.17" height="1.37" fill="#aaaede"/>
<rect x="251.12" y="35.70" width="7.17" height="1.37" fill="#9ea3d9"/>
<rect x="251.12" y="37.02" width="7.17" height="1.37" fill="#b2b6e1"/>
<rect x="251.12" y="38.34" width="7.17" height="1.37" fill="#b4b7e1"/>
<rect x="251.12" y="39.66" width="7.17" height="1.37" fill="#8a90d1"/>
<rect x="251.12" y="40.98" width="7.17" height="1.37" fill="#7177c7"/>
<rect x="251.12" y="42.29" width="7.17" height="1.37" fill="#626ac1"/>
<rect x="251.12" y="43.61" width="7.17" height="1.37" fill="#656cc2"/>
<rect x="251.12" y="44.93" width="7.17" height="1.37" fill="#535bbb"/>
<rect x="251.12" y="46.25" width="7.17" height="1.37" fill="#434bb4"/>
<rect x="251.12" y="47.57" width="7.17" height="1.37" fill="#535bbb"/>
<rect x="251.12" y="48.89" width="7.17" height="1.37" fill="#535bbb"/>
<rect x="251.12" y="50.21" width="7.17" height="1.37" fill="#848ace"/>
<rect x="251.12" y="51.52" width="7.17" height="1.37" fill="#777dc9"/>
<rect x="251.12" y="52.84" width="7.17" height="1.37" fill="#8288cd"/>
<rect x="251.12" y="54.16" width="7.17" height="1.37" fill="#747ac8"/>
<rect x="251.12" y="55.48" width="7.17" height="1.37" fill="#7178c7"/>
<rect x="258.25" y="35.70" width="7.17" height="1.37" fill="#dfe1f2"/>
<rect x="258.25" y="37.02" width="7.17" height="1.37" fill="#b5b8e2"/>
<rect x="258.25" y="38.34" width="7.17" height="1.37" fill="#d0d2ec"/>
<rect x="258.25" y="39.66" width="7.17" height="1.37" fill="#cbcdea"/>
<rect x="258.25" y="40.98" width="7.17" height="1.37" fill="#d1d3ed"/>
<rect x="258.25" y="42.29" width="7.17" height="1.37" fill="#d8daf0"/>
<rect x="258.25" y="43.61" width="7.17" height="1.37" fill="#bec1e5"/>
<rect x="258.25" y="44.93" width="7.17" height="1.37" fill="#989dd6"/>
<rect x="258.25" y="46.25" width="7.17" height="1.37" fill="#b1b4e0"/>
<rect x="258.25" y="47.57" width="7.17" height="1.37" fill="#a6aadc"/>
<rect x="258.25" y="48.89" width="7.17" height="1.37" fill="#b8bbe3"/>
<rect x="258.25" y="50.21" width="7.17" height="1.37" fill="#b3b6e1"/>
<rect x="258.25" y="51.52" width="7.17" height="1.37" fill="#bbbee4"/>
<rect x="258.25" y="52.84" width="7.17" height="1.37" fill="#d1d3ed"/>
<rect x="258.25" y="54.16" width="7.17" height="1.37" fill="#e3e4f4"/>
<rect x="258.25" y="55.48" width="7.17" height="1.37" fill="#ecedf8"/>
<rect x="265.38" y="35.70" width="7.17" height="1.37" fill="#8b90d1"/>
<rect x="265.38" y="37.02" width="7.17" height="1.37" fill="#a4a8db"/>
<rect x="265.38" y="38.34" width="7.17" height="1.37" fill="#858bcf"/>
<rect x="265.38" y="39.66" width="7.17" height="1.37" fill="#676ec3"/>
<rect x="265.38" y="40.98" width="7.17" height="1.37" fill="#787fca"/>
<rect x="265.38" y="42.29" width="7.17" height="1.37" fill="#9ca1d8"/>
<rect x="265.38" y="43.61" width="7.17" height="1.37" fill="#b3b7e1"/>
<rect x="265.38" y="44.93" width="7.17" height="1.37" fill="#ccceeb"/>
<rect x="265.38" y="46.25" width="7.17" height="1.37" fill="#ccceeb"/>
<rect x="265.38" y="47.57" width="7.17" height="1.37" fill="#dee0f2"/>
<rect x="265.38" y="48.89" width="7.17" height="1.37" fill="#e2e3f3"/>
<rect x="265.38" y="50.21" width="7.17" height="1.37" fill="#e2e4f4"/>
<rect x="265.38" y="51.52" width="7.17" height="1.37" fill="#cccfeb"/>
<rect x="265.38" y="52.84" width="7.17" height="1.37" fill="#a4a9db"/>
<rect x="265.38" y="54.16" width="7.17" height="1.37" fill="#9196d3"/>
<rect x="265.38" y="55.48" width="7.17" height="1.37" fill="#9a9fd7"/>
<rect x="272.50" y="35.70" width="7.50" height="1.37" fill="#ea7675"/>
<rect x="272.50" y="37.02" width="7.50" height="1.37" fill="#ec7e7c"/>
<rect x="272.50" y="38.34" width="7.50" height="1.37" fill="#ed8685"/>
<rect x="272.50" y="39.66" width="7.50" height="1.37" fill="#f09e9d"/>
<rect x="272.50" y="40.98" width="7.50" height="1.37" fill="#f1a2a1"/>
<rect x="272.50" y="42.29" width="7.50" height="1.37" fill="#eb7877"/>
<rect x="272.50" y="43.61" width="7.50" height="1.37" fill="#ee908e"/>
<rect x="272.50" y="44.93" width="7.50" height="1.37" fill="#ed8887"/>
<rect x="272.50" y="46.25" width="7.50" height="1.37" fill="#eb7b79"/>
<rect x="272.50" y="47.57" width="7.50" height="1.37" fill="#e76160"/>
<rect x="272.50" y="48.89" width="7.50" height="1.37" fill="#eb7977"/>
<rect x="272.50" y="50.21" width="7.50" height="1.37" fill="#ed8785"/>
<rect x="272.50" y="51.52" width="7.50" height="1.37" fill="#ef9291"/>
<rect x="272.50" y="52.84" width="7.50" height="1.37" fill="#ef9190"/>
<rect x="272.50" y="54.16" width="7.50" height="1.37" fill="#ee8e8c"/>
<rect x="272.50" y="55.48" width="7.50" height="1.37" fill="#e96968"/>
<rect x="279.95" y="35.70" width="7.50" height="1.37" fill="#e86462"/>
<rect x="279.95" y="37.02" width="7.50" height="1.37" fill="#ee8d8c"/>
<rect x="279.95" y="38.34" width="7.50" height="1.37" fill="#f2abaa"/>
<rect x="279.95" y="39.66" width="7.50" height="1.37" fill="#ef9594"/>
<rect x="279.95" y="40.98" width="7.50" height="1.37" fill="#eb7978"/>
<rect x="279.95" y="42.29" width="7.50" height="1.37" fill="#ec7f7e"/>
<rect x="279.95" y="43.61" width="7.50" height="1.37" fill="#eb7c7b"/>
<rect x="279.95" y="44.93" width="7.50" height="1.37" fill="#f1a1a0"/>
<rect x="279.95" y="46.25" width="7.50" height="1.37" fill="#f1a3a2"/>
<rect x="279.95" y="47.57" width="7.50" height="1.37" fill="#ec817f"/>
<rect x="279.95" y="48.89" width="7.50" height="1.37" fill="#e96e6d"/>
<rect x="279.95" y="50.21" width="7.50" height="1.37" fill="#e75e5c"/>
<rect x="279.95" y="51.52" width="7.50" height="1.37" fill="#e44a48"/>
<rect x="279.95" y="52.84" width="7.50" height="1.37" fill="#e96b69"/>
<rect x="279.95" y="54.16" width="7.50" height="1.37" fill="#ee8d8c"/>
<rect x="279.95" y="55.48" width="7.50" height="1.37" fill="#f1a3a2"/>
<rect x="244.00" y="56.80" width="7.17" height="1.35" fill="#ee8e8d"/>
<rect x="244.00" y="58.10" width="7.17" height="1.35" fill="#ea7473"/>
<rect x="244.00" y="59.40" width="7.17" height="1.35" fill="#e96f6e"/>
<rect x="244.00" y="60.70" width="7.17" height="1.35" fill="#ea706f"/>
<rect x="244.00" y="62.00" width="7.17" height="1.35" fill="#e96a68"/>
<rect x="244.00" y="63.30" width="7.17" height="1.35" fill="#eb7977"/>
<rect x="244.00" y="64.60" width="7.17" height="1.35" fill="#ec7e7c"/>
<rect x="244.00" y="65.90" width="7.17" height="1.35" fill="#f1a3a2"/>
<rect x="244.00" y="67.20" width="7.17" height="1.35" fill="#ee8f8d"/>
<rect x="244.00" y="68.50" width="7.17" height="1.35" fill="#f1a3a2"/>
<rect x="244.00" y="69.80" width="7.17" height="1.35" fill="#ed8584"/>
<rect x="244.00" y="71.10" width="7.17" height="1.35" fill="#ec8180"/>
<rect x="244.00" y="72.40" width="7.17" height="1.35" fill="#ef9493"/>
<rect x="244.00" y="73.70" width="7.17" height="1.35" fill="#f3aeae"/>
<rect x="244.00" y="75.00" width="7.17" height="1.35" fill="#f5bab9"/>
<rect x="244.00" y="76.30" width="7.17" height="1.35" fill="#f2a9a8"/>
<rect x="244.00" y="77.60" width="7.17" height="1.35" fill="#f09897"/>
<rect x="251.12" y="56.80" width="7.17" height="1.35" fill="#f8d3d3"/>
<rect x="251.12" y="58.10" width="7.17" height="1.35" fill="#f6c6c6"/>
<rect x="251.12" y="59.40" width="7.17" height="1.35" fill="#f4b9b8"/>
<rect x="251.12" y="60.70" width="7.17" height="1.35" fill="#f5bcbb"/>
<rect x="251.12" y="62.00" width="7.17" height="1.35" fill="#f7c8c8"/>
<rect x="251.12" y="63.30" width="7.17" height="1.35" fill="#f5b9b8"/>
<rect x="251.12" y="64.60" width="7.17" height="1.35" fill="#f9d5d4"/>
<rect x="251.12" y="65.90" width="7.17" height="1.35" fill="#f9d6d6"/>
<rect x="251.12" y="67.20" width="7.17" height="1.35" fill="#f7cdcc"/>
<rect x="251.12" y="68.50" width="7.17" height="1.35" fill="#f1a5a4"/>
<rect x="251.12" y="69.80" width="7.17" height="1.35" fill="#f09c9b"/>
<rect x="251.12" y="71.10" width="7.17" height="1.35" fill="#ed8584"/>
<rect x="251.12" y="72.40" width="7.17" height="1.35" fill="#ee8f8e"/>
<rect x="251.12" y="73.70" width="7.17" height="1.35" fill="#f2a6a5"/>
<rect x="251.12" y="75.00" width="7.17" height="1.35" fill="#f4b7b6"/>
<rect x="251.12" y="76.30" width="7.17" height="1.35" fill="#ef9493"/>
<rect x="251.12" y="77.60" width="7.17" height="1.35" fill="#ee8b8a"/>
<rect x="258.25" y="56.80" width="7.17" height="1.35" fill="#f9d6d5"/>
<rect x="258.25" y="58.10" width="7.17" height="1.35" fill="#f7cccb"/>
<rect x="258.25" y="59.40" width="7.17" height="1.35" fill="#f4b9b8"/>
<rect x="258.25" y="60.70" width="7.17" height="1.35" fill="#f5bbbb"/>
<rect x="258.25" y="62.00" width="7.17" height="1.35" fill="#f7c8c7"/>
<rect x="258.25" y="63.30" width="7.17" height="1.35" fill="#f4b6b6"/>
<rect x="258.25" y="64.60" width="7.17" height="1.35" fill="#f09897"/>
<rect x="258.25" y="65.90" width="7.17" height="1.35" fill="#f3b0af"/>
<rect x="258.25" y="67.20" width="7.17" height="1.35" fill="#f8cecd"/>
<rect x="258.25" y="68.50" width="7.17" height="1.35" fill="#f8d1d0"/>
<rect x="258.25" y="69.80" width="7.17" height="1.35" fill="#f8cdcd"/>
<rect x="258.25" y="71.10" width="7.17" height="1.35" fill="#f5b9b9"/>
<rect x="258.25" y="72.40" width="7.17" height="1.35" fill="#f7caca"/>
<rect x="258.25" y="73.70" width="7.17" height="1.35" fill="#f3b0af"/>
<rect x="258.25" y="75.00" width="7.17" height="1.35" fill="#f1a09f"/>
<rect x="258.25" y="76.30" width="7.17" height="1.35" fill="#f1a3a2"/>
<rect x="258.25" y="77.60" width="7.17" height="1.35" fill="#f4b9b8"/>
<rect x="265.38" y="56.80" width="7.17" height="1.35" fill="#f3b1b1"/>
<rect x="265.38" y="58.10" width="7.17" height="1.35" fill="#f09e9d"/>
<rect x="265.38" y="59.40" width="7.17" height="1.35" fill="#f4b7b6"/>
<rect x="265.38" y="60.70" width="7.17" height="1.35" fill="#f7cac9"/>
<rect x="265.38" y="62.00" width="7.17" height="1.35" fill="#f4b5b4"/>
<rect x="265.38" y="63.30" width="7.17" height="1.35" fill="#f6c3c3"/>
<rect x="265.38" y="64.60" width="7.17" height="1.35" fill="#f1a3a2"/>
<rect x="265.38" y="65.90" width="7.17" height="1.35" fill="#f2a9a8"/>
<rect x="265.38" y="67.20" width="7.17" height="1.35" fill="#f6c2c1"/>
<rect x="265.38" y="68.50" width="7.17" height="1.35" fill="#f8d2d1"/>
<rect x="265.38" y="69.80" width="7.17" height="1.35" fill="#f8d1d1"/>
<rect x="265.38" y="71.10" width="7.17" height="1.35" fill="#f6c0c0"/>
<rect x="265.38" y="72.40" width="7.17" height="1.35" fill="#f1a1a0"/>
<rect x="265.38" y="73.70" width="7.17" height="1.35" fill="#f5bfbe"/>
<rect x="265.38" y="75.00" width="7.17" height="1.35" fill="#f6c4c4"/>
<rect x="265.38" y="76.30" width="7.17" height="1.35" fill="#f9d4d4"/>
<rect x="265.38" y="77.60" width="7.17" height="1.35" fill="#f3afae"/>
<rect x="272.50" y="56.80" width="7.50" height="1.35" fill="#9095d3"/>
<rect x="272.50" y="58.10" width="7.50" height="1.35" fill="#a3a8db"/>
<rect x="272.50" y="59.40" width="7.50" height="1.35" fill="#9a9fd7"/>
<rect x="272.50" y="60.70" width="7.50" height="1.35" fill="#6e74c6"/>
<rect x="272.50" y="62.00" width="7.50" height="1.35" fill="#4e56b9"/>
<rect x="272.50" y="63.30" width="7.50" height="1.35" fill="#414ab4"/>
<rect x="272.50" y="64.60" width="7.50" height="1.35" fill="#333cae"/>
<rect x="272.50" y="65.90" width="7.50" height="1.35" fill="#333cae"/>
<rect x="272.50" y="67.20" width="7.50" height="1.35" fill="#333cae"/>
<rect x="272.50" y="68.50" width="7.50" height="1.35" fill="#545cbb"/>
<rect x="272.50" y="69.80" width="7.50" height="1.35" fill="#3640b0"/>
<rect x="272.50" y="71.10" width="7.50" height="1.35" fill="#333cae"/>
<rect x="272.50" y="72.40" width="7.50" height="1.35" fill="#5c64bf"/>
<rect x="272.50" y="73.70" width="7.50" height="1.35" fill="#5159ba"/>
<rect x="272.50" y="75.00" width="7.50" height="1.35" fill="#5d64bf"/>
<rect x="272.50" y="76.30" width="7.50" height="1.35" fill="#666dc3"/>
<rect x="272.50" y="77.60" width="7.50" height="1.35" fill="#7077c7"/>
<rect x="279.95" y="56.80" width="7.50" height="1.35" fill="#878dd0"/>
<rect x="279.95" y="58.10" width="7.50" height="1.35" fill="#8a90d1"/>
<rect x="279.95" y="59.40" width="7.50" height="1.35" fill="#878dd0"/>
<rect x="279.95" y="60.70" width="7.50" height="1.35" fill="#5961bd"/>
<rect x="279.95" y="62.00" width="7.50" height="1.35" fill="#737ac8"/>
<rect x="279.95" y="63.30" width="7.50" height="1.35" fill="#4952b7"/>
<rect x="279.95" y="64.60" width="7.50" height="1.35" fill="#6168c1"/>
<rect x="279.95" y="65.90" width="7.50" height="1.35" fill="#686fc3"/>
<rect x="279.95" y="67.20" width="7.50" height="1.35" fill="#4b54b8"/>
<rect x="279.95" y="68.50" width="7.50" height="1.35" fill="#363faf"/>
<rect x="279.95" y="69.80" width="7.50" height="1.35" fill="#424bb4"/>
<rect x="279.95" y="71.10" width="7.50" height="1.35" fill="#676ec3"/>
<rect x="279.95" y="72.40" width="7.50" height="1.35" fill="#646bc2"/>
<rect x="279.95" y="73.70" width="7.50" height="1.35" fill="#6970c4"/>
<rect x="279.95" y="75.00" width="7.50" height="1.35" fill="#454eb5"/>
<rect x="279.95" y="76.30" width="7.50" height="1.35" fill="#5f66c0"/>
<rect x="279.95" y="77.60" width="7.50" height="1.35" fill="#666dc2"/>
<rect x="244.00" y="34.40" width="27.90" height="1.2" fill="#777"/>
<rect x="273.10" y="34.40" width="14.30" height="1.2" fill="#777"/>
<text x="374.00" y="22.00" font-size="8.3" text-anchor="middle" font-weight="bold" fill="#111">Venn diagram</text>
<text x="339.30" y="32.50" font-size="5.45" text-anchor="middle" font-weight="bold" fill="#222">Upregulated genes</text>
<circle cx="332.2" cy="52.0" r="17.0" fill="rgb(106,104,245)" fill-opacity="0.47" stroke="#8888cc" stroke-width="0.3"/>
<circle cx="348.5" cy="52.0" r="17.0" fill="rgb(2,240,133)" fill-opacity="0.46" stroke="#66bb99" stroke-width="0.3"/>
<circle cx="340.5" cy="66.3" r="17.0" fill="rgb(226,107,70)" fill-opacity="0.45" stroke="#cc8877" stroke-width="0.3"/>
<text x="324.00" y="48.80" font-size="3.6" text-anchor="middle" fill="#222">435</text>
<text x="340.50" y="46.30" font-size="3.6" text-anchor="middle" fill="#222">38</text>
<text x="355.50" y="48.80" font-size="3.6" text-anchor="middle" fill="#222">25</text>
<text x="340.00" y="58.80" font-size="3.6" text-anchor="middle" fill="#222">2</text>
<text x="329.50" y="63.80" font-size="3.6" text-anchor="middle" fill="#222">182</text>
<text x="351.00" y="63.80" font-size="3.6" text-anchor="middle" fill="#222">4</text>
<text x="339.00" y="76.80" font-size="3.6" text-anchor="middle" fill="#222">2008</text>
<text x="0" y="0" font-size="5.5" font-weight="bold" fill="#222" text-anchor="middle" transform="translate(313.9,51.5) rotate(-90)">Sos1 KO</text>
<text x="0" y="0" font-size="5.5" font-weight="bold" fill="#222" text-anchor="middle" transform="translate(369.8,51.5) rotate(-90)">Sos2 KO</text>
<text x="342.20" y="89.20" font-size="5.5" text-anchor="middle" font-weight="bold" fill="#222">Sos1/2 DKO</text>
<text x="415.50" y="32.50" font-size="5.45" text-anchor="middle" font-weight="bold" fill="#222">Downregulated genes</text>
<circle cx="409.2" cy="52.0" r="17.0" fill="rgb(106,104,245)" fill-opacity="0.47" stroke="#8888cc" stroke-width="0.3"/>
<circle cx="426.0" cy="52.0" r="17.0" fill="rgb(2,240,133)" fill-opacity="0.46" stroke="#66bb99" stroke-width="0.3"/>
<circle cx="418.0" cy="66.3" r="17.0" fill="rgb(226,107,70)" fill-opacity="0.45" stroke="#cc8877" stroke-width="0.3"/>
<text x="401.00" y="48.80" font-size="3.6" text-anchor="middle" fill="#222">388</text>
<text x="418.00" y="46.30" font-size="3.6" text-anchor="middle" fill="#222">15</text>
<text x="432.00" y="48.80" font-size="3.6" text-anchor="middle" fill="#222">11</text>
<text x="417.50" y="58.80" font-size="3.6" text-anchor="middle" fill="#222">28</text>
<text x="406.50" y="63.80" font-size="3.6" text-anchor="middle" fill="#222">649</text>
<text x="429.00" y="63.80" font-size="3.6" text-anchor="middle" fill="#222">12</text>
<text x="417.00" y="76.80" font-size="3.6" text-anchor="middle" fill="#222">2080</text>
<text x="0" y="0" font-size="5.5" font-weight="bold" fill="#222" text-anchor="middle" transform="translate(390.3,51.5) rotate(-90)">Sos1 KO</text>
<text x="0" y="0" font-size="5.5" font-weight="bold" fill="#222" text-anchor="middle" transform="translate(447.0,51.5) rotate(-90)">Sos2 KO</text>
<text x="418.30" y="89.20" font-size="5.5" text-anchor="middle" font-weight="bold" fill="#222">Sos1/2 DKO</text>
<rect x="8.4" y="94.2" width="434.2" height="226" fill="none" stroke="#3a3a3a" stroke-width="1.1"/>
<rect x="8.4" y="324.6" width="434.2" height="218.6" fill="none" stroke="#3a3a3a" stroke-width="1.1"/>
<text x="11.50" y="108.00" font-size="12.6" text-anchor="start" font-weight="bold" fill="#111">B</text>
<text x="11.00" y="338.60" font-size="12.6" text-anchor="start" font-weight="bold" fill="#111">C</text>
<text x="227.90" y="105.90" font-size="12.1" text-anchor="middle" fill="#1a1a1a">Gene Ontology</text>
<text x="228.90" y="336.10" font-size="12.0" text-anchor="middle" fill="#1a1a1a">Reactome</text>
<text x="234.00" y="138.20" font-size="7.55" text-anchor="middle" font-weight="bold" fill="#1a1a1a">Sos1 KO vs WT</text>
<text x="230.80" y="218.20" font-size="7.55" text-anchor="middle" font-weight="bold" fill="#1a1a1a">Sos2 KO vs WT</text>
<text x="222.55" y="273.90" font-size="7.55" text-anchor="middle" font-weight="bold" fill="#1a1a1a">Sos1/2 DKO vs WT</text>
<text x="233.95" y="359.90" font-size="7.55" text-anchor="middle" font-weight="bold" fill="#1a1a1a">Sos1 KO vs WT</text>
<text x="236.90" y="431.00" font-size="7.55" text-anchor="middle" font-weight="bold" fill="#1a1a1a">Sos2 KO vs WT</text>
<text x="214.70" y="505.90" font-size="7.55" text-anchor="middle" font-weight="bold" fill="#1a1a1a">Sos1/2 DKO vs WT</text>
<rect x="121.30" y="110.76" width="11.20" height="2.48" fill="#0b2bf2" stroke="#0a1660" stroke-width="0.9"/>
<line x1="119.10" y1="112.00" x2="121.30" y2="112.00" stroke="#333" stroke-width="0.5"/>
<text x="118.30" y="113.97" font-size="5.48" text-anchor="end" fill="#262626" textLength="77.20" lengthAdjust="spacingAndGlyphs">G1/S transition of mitotic cell cycle</text>
<text x="133.30" y="113.40" font-size="3.9" text-anchor="start" font-weight="bold" fill="#2a2a2a">(1.67e-16)</text>
<rect x="121.30" y="115.19" width="34.50" height="2.48" fill="#0b2bf2" stroke="#0a1660" stroke-width="0.9"/>
<line x1="119.10" y1="116.44" x2="121.30" y2="116.44" stroke="#333" stroke-width="0.5"/>
<text x="118.30" y="118.41" font-size="5.48" text-anchor="end" fill="#262626" textLength="57.21" lengthAdjust="spacingAndGlyphs">cytoskeleton organization</text>
<text x="156.60" y="117.84" font-size="3.9" text-anchor="start" font-weight="bold" fill="#2a2a2a">(3.91e-18)</text>
<rect x="121.30" y="119.63" width="15.40" height="2.48" fill="#0b2bf2" stroke="#0a1660" stroke-width="0.9"/>
<line x1="119.10" y1="120.87" x2="121.30" y2="120.87" stroke="#333" stroke-width="0.5"/>
<text x="118.30" y="122.84" font-size="5.48" text-anchor="end" fill="#262626" textLength="59.19" lengthAdjust="spacingAndGlyphs">DNA conformation change</text>
<text x="137.50" y="122.28" font-size="3.9" text-anchor="start" font-weight="bold" fill="#2a2a2a">(6.55e-24)</text>
<rect x="121.30" y="124.07" width="36.80" height="2.48" fill="#0b2bf2" stroke="#0a1660" stroke-width="0.9"/>
<line x1="119.10" y1="125.31" x2="121.30" y2="125.31" stroke="#333" stroke-width="0.5"/>
<text x="118.30" y="127.28" font-size="5.48" text-anchor="end" fill="#262626" textLength="49.88" lengthAdjust="spacingAndGlyphs">regulation of cell cycle</text>
<text x="158.90" y="126.71" font-size="3.9" text-anchor="start" font-weight="bold" fill="#2a2a2a">(9.08e-28)</text>
<rect x="121.30" y="128.50" width="41.30" height="2.48" fill="#0b2bf2" stroke="#0a1660" stroke-width="0.9"/>
<line x1="119.10" y1="129.75" x2="121.30" y2="129.75" stroke="#333" stroke-width="0.5"/>
<text x="118.30" y="131.72" font-size="5.48" text-anchor="end" fill="#262626" textLength="58.34" lengthAdjust="spacingAndGlyphs">chromosome organization</text>
<text x="163.40" y="131.15" font-size="3.9" text-anchor="start" font-weight="bold" fill="#2a2a2a">(2.48e-28)</text>
<rect x="121.30" y="132.94" width="20.20" height="2.48" fill="#0b2bf2" stroke="#0a1660" stroke-width="0.9"/>
<line x1="119.10" y1="134.18" x2="121.30" y2="134.18" stroke="#333" stroke-width="0.5"/>
<text x="118.30" y="136.15" font-size="5.48" text-anchor="end" fill="#262626" textLength="57.21" lengthAdjust="spacingAndGlyphs">chromosome segregation</text>
<text x="142.30" y="135.59" font-size="3.9" text-anchor="start" font-weight="bold" fill="#2a2a2a">(2.87e-32)</text>
<rect x="121.30" y="137.38" width="29.80" height="2.48" fill="#0b2bf2" stroke="#0a1660" stroke-width="0.9"/>
<line x1="119.10" y1="138.62" x2="121.30" y2="138.62" stroke="#333" stroke-width="0.5"/>
<text x="118.30" y="140.59" font-size="5.48" text-anchor="end" fill="#262626" textLength="36.64" lengthAdjust="spacingAndGlyphs">organelle fission</text>
<text x="151.90" y="140.02" font-size="3.9" text-anchor="start" font-weight="bold" fill="#2a2a2a">(2.42e-32)</text>
<rect x="121.30" y="141.81" width="28.70" height="2.48" fill="#0b2bf2" stroke="#0a1660" stroke-width="0.9"/>
<line x1="119.10" y1="143.05" x2="121.30" y2="143.05" stroke="#333" stroke-width="0.5"/>
<text x="118.30" y="145.03" font-size="5.48" text-anchor="end" fill="#262626" textLength="34.95" lengthAdjust="spacingAndGlyphs">nuclear division</text>
<text x="150.80" y="144.46" font-size="3.9" text-anchor="start" font-weight="bold" fill="#2a2a2a">(1.33e-33)</text>
<rect x="121.30" y="146.25" width="31.70" height="2.48" fill="#0b2bf2" stroke="#0a1660" stroke-width="0.9"/>
<line x1="119.10" y1="147.49" x2="121.30" y2="147.49" stroke="#333" stroke-width="0.5"/>
<text x="118.30" y="149.46" font-size="5.48" text-anchor="end" fill="#262626" textLength="25.93" lengthAdjust="spacingAndGlyphs">cell division</text>
<text x="153.80" y="148.89" font-size="3.9" text-anchor="start" font-weight="bold" fill="#2a2a2a">(6.09e-36)</text>
<rect x="121.30" y="150.69" width="68.20" height="2.48" fill="#0b2bf2" stroke="#0a1660" stroke-width="0.9"/>
<line x1="119.10" y1="151.93" x2="121.30" y2="151.93" stroke="#333" stroke-width="0.5"/>
<text x="118.30" y="153.90" font-size="5.48" text-anchor="end" fill="#262626" textLength="20.57" lengthAdjust="spacingAndGlyphs">cell cycle</text>
<text x="190.30" y="153.33" font-size="3.9" text-anchor="start" font-weight="bold" fill="#2a2a2a">(5.11e-55)</text>
<rect x="121.30" y="155.12" width="49.20" height="2.48" fill="#0b2bf2" stroke="#0a1660" stroke-width="0.9"/>
<line x1="119.10" y1="156.36" x2="121.30" y2="156.36" stroke="#333" stroke-width="0.5"/>
<text x="118.30" y="158.33" font-size="5.48" text-anchor="end" fill="#262626" textLength="36.62" lengthAdjust="spacingAndGlyphs">mitotic cell cycle</text>
<text x="171.30" y="157.77" font-size="3.9" text-anchor="start" font-weight="bold" fill="#2a2a2a">(5.58e-58)</text>
<rect x="121.30" y="159.56" width="47.40" height="2.48" fill="#0b2bf2" stroke="#0a1660" stroke-width="0.9"/>
<line x1="119.10" y1="160.80" x2="121.30" y2="160.80" stroke="#333" stroke-width="0.5"/>
<text x="118.30" y="162.77" font-size="5.48" text-anchor="end" fill="#262626" textLength="55.79" lengthAdjust="spacingAndGlyphs">mitotic cell cycle process</text>
<text x="169.50" y="162.20" font-size="3.9" text-anchor="start" font-weight="bold" fill="#2a2a2a">(5.29e-58)</text>
<line x1="121.30" y1="108.50" x2="121.30" y2="163.90" stroke="#333" stroke-width="0.8"/>
<line x1="121.30" y1="163.90" x2="204.10" y2="163.90" stroke="#333" stroke-width="0.8"/>
<line x1="121.30" y1="163.90" x2="121.30" y2="166.10" stroke="#333" stroke-width="0.7"/>
<text x="121.30" y="169.30" font-size="3.9" text-anchor="middle" font-weight="bold" fill="#333">0</text>
<line x1="137.86" y1="163.90" x2="137.86" y2="166.10" stroke="#333" stroke-width="0.7"/>
<text x="137.86" y="169.30" font-size="3.9" text-anchor="middle" font-weight="bold" fill="#333">5</text>
<line x1="154.42" y1="163.90" x2="154.42" y2="166.10" stroke="#333" stroke-width="0.7"/>
<text x="154.42" y="169.30" font-size="3.9" text-anchor="middle" font-weight="bold" fill="#333">10</text>
<line x1="170.98" y1="163.90" x2="170.98" y2="166.10" stroke="#333" stroke-width="0.7"/>
<text x="170.98" y="169.30" font-size="3.9" text-anchor="middle" font-weight="bold" fill="#333">15</text>
<line x1="187.54" y1="163.90" x2="187.54" y2="166.10" stroke="#333" stroke-width="0.7"/>
<text x="187.54" y="169.30" font-size="3.9" text-anchor="middle" font-weight="bold" fill="#333">20</text>
<line x1="204.10" y1="163.90" x2="204.10" y2="166.10" stroke="#333" stroke-width="0.7"/>
<text x="204.10" y="169.30" font-size="3.9" text-anchor="middle" font-weight="bold" fill="#333">25</text>
<text x="161.80" y="175.40" font-size="4.7" text-anchor="middle" font-weight="bold" fill="#222">percentage</text>
<rect x="343.50" y="109.37" width="8.20" height="2.85" fill="#ff2a00" stroke="#6a1a0a" stroke-width="0.9"/>
<line x1="341.30" y1="110.80" x2="343.50" y2="110.80" stroke="#333" stroke-width="0.5"/>
<text x="340.50" y="112.77" font-size="5.48" text-anchor="end" fill="#262626" textLength="29.87" lengthAdjust="spacingAndGlyphs">keratinization</text>
<text x="352.50" y="112.20" font-size="3.9" text-anchor="start" font-weight="bold" fill="#2a2a2a">(3.26e-6)</text>
<rect x="343.50" y="114.46" width="13.70" height="2.85" fill="#ff2a00" stroke="#6a1a0a" stroke-width="0.9"/>
<line x1="341.30" y1="115.89" x2="343.50" y2="115.89" stroke="#333" stroke-width="0.5"/>
<text x="340.50" y="117.86" font-size="5.48" text-anchor="end" fill="#262626" textLength="75.72" lengthAdjust="spacingAndGlyphs">regulation of fat cell differentiation</text>
<text x="358.00" y="117.29" font-size="3.9" text-anchor="start" font-weight="bold" fill="#2a2a2a">(3.14e-6)</text>
<rect x="343.50" y="119.55" width="6.30" height="2.85" fill="#ff2a00" stroke="#6a1a0a" stroke-width="0.9"/>
<line x1="341.30" y1="120.98" x2="343.50" y2="120.98" stroke="#333" stroke-width="0.5"/>
<text x="340.50" y="122.95" font-size="5.48" text-anchor="end" fill="#262626" textLength="63.40" lengthAdjust="spacingAndGlyphs">establishment of skin barrier</text>
<text x="350.60" y="122.38" font-size="3.9" text-anchor="start" font-weight="bold" fill="#2a2a2a">(3.27e-5)</text>
<rect x="343.50" y="124.64" width="2.80" height="2.85" fill="#ff2a00" stroke="#6a1a0a" stroke-width="0.9"/>
<line x1="341.30" y1="126.07" x2="343.50" y2="126.07" stroke="#333" stroke-width="0.5"/>
<text x="340.50" y="128.04" font-size="5.48" text-anchor="end" fill="#262626" textLength="58.63" lengthAdjust="spacingAndGlyphs">cell envelope organization</text>
<text x="347.10" y="127.47" font-size="3.9" text-anchor="start" font-weight="bold" fill="#2a2a2a">(3.12e-5)</text>
<rect x="343.50" y="129.73" width="74.70" height="2.85" fill="#ff2a00" stroke="#6a1a0a" stroke-width="0.9"/>
<line x1="341.30" y1="131.16" x2="343.50" y2="131.16" stroke="#333" stroke-width="0.5"/>
<text x="340.50" y="133.13" font-size="5.48" text-anchor="end" fill="#262626" textLength="53.55" lengthAdjust="spacingAndGlyphs">epithelium development</text>
<text x="419.00" y="132.56" font-size="3.9" text-anchor="start" font-weight="bold" fill="#2a2a2a">(7.62e-7)</text>
<rect x="343.50" y="134.82" width="80.20" height="2.85" fill="#ff2a00" stroke="#6a1a0a" stroke-width="0.9"/>
<line x1="341.30" y1="136.25" x2="343.50" y2="136.25" stroke="#333" stroke-width="0.5"/>
<text x="340.50" y="138.22" font-size="5.48" text-anchor="end" fill="#262626" textLength="51.29" lengthAdjust="spacingAndGlyphs">lipid metabolic process</text>
<text x="424.50" y="137.65" font-size="3.9" text-anchor="start" font-weight="bold" fill="#2a2a2a">(7.62e-7)</text>
<rect x="343.50" y="139.91" width="31.30" height="2.85" fill="#ff2a00" stroke="#6a1a0a" stroke-width="0.9"/>
<line x1="341.30" y1="141.34" x2="343.50" y2="141.34" stroke="#333" stroke-width="0.5"/>
<text x="340.50" y="143.31" font-size="5.48" text-anchor="end" fill="#262626" textLength="52.42" lengthAdjust="spacingAndGlyphs">epidermis development</text>
<text x="375.60" y="142.74" font-size="3.9" text-anchor="start" font-weight="bold" fill="#2a2a2a">(3.35e-7)</text>
<rect x="343.50" y="145.00" width="26.70" height="2.85" fill="#ff2a00" stroke="#6a1a0a" stroke-width="0.9"/>
<line x1="341.30" y1="146.43" x2="343.50" y2="146.43" stroke="#333" stroke-width="0.5"/>
<text x="340.50" y="148.40" font-size="5.48" text-anchor="end" fill="#262626" textLength="63.04" lengthAdjust="spacingAndGlyphs">epidermal cell differentiation</text>
<text x="371.00" y="147.83" font-size="3.9" text-anchor="start" font-weight="bold" fill="#2a2a2a">(3.72e-8)</text>
<rect x="343.50" y="150.09" width="55.40" height="2.85" fill="#ff2a00" stroke="#6a1a0a" stroke-width="0.9"/>
<line x1="341.30" y1="151.52" x2="343.50" y2="151.52" stroke="#333" stroke-width="0.5"/>
<text x="340.50" y="153.49" font-size="5.48" text-anchor="end" fill="#262626" textLength="60.79" lengthAdjust="spacingAndGlyphs">epithelial cell differentiation</text>
<text x="399.70" y="152.92" font-size="3.9" text-anchor="start" font-weight="bold" fill="#2a2a2a">(3.35e-10)</text>
<rect x="343.50" y="155.18" width="22.80" height="2.85" fill="#ff2a00" stroke="#6a1a0a" stroke-width="0.9"/>
<line x1="341.30" y1="156.61" x2="343.50" y2="156.61" stroke="#333" stroke-width="0.5"/>
<text x="340.50" y="158.58" font-size="5.48" text-anchor="end" fill="#262626" textLength="59.09" lengthAdjust="spacingAndGlyphs">keratinocyte differentiation</text>
<text x="367.10" y="158.01" font-size="3.9" text-anchor="start" font-weight="bold" fill="#2a2a2a">(3.10e-10)</text>
<rect x="343.50" y="160.27" width="33.70" height="2.85" fill="#ff2a00" stroke="#6a1a0a" stroke-width="0.9"/>
<line x1="341.30" y1="161.70" x2="343.50" y2="161.70" stroke="#333" stroke-width="0.5"/>
<text x="340.50" y="163.67" font-size="5.48" text-anchor="end" fill="#262626" textLength="39.46" lengthAdjust="spacingAndGlyphs">skin development</text>
<text x="378.00" y="163.10" font-size="3.9" text-anchor="start" font-weight="bold" fill="#2a2a2a">(2.88e-10)</text>
<line x1="343.50" y1="106.50" x2="343.50" y2="165.30" stroke="#333" stroke-width="0.8"/>
<line x1="343.50" y1="165.30" x2="432.00" y2="165.30" stroke="#333" stroke-width="0.8"/>
<line x1="343.50" y1="165.30" x2="343.50" y2="167.50" stroke="#333" stroke-width="0.7"/>
<text x="343.50" y="171.20" font-size="3.9" text-anchor="middle" font-weight="bold" fill="#333">0</text>
<line x1="387.75" y1="165.30" x2="387.75" y2="167.50" stroke="#333" stroke-width="0.7"/>
<text x="387.75" y="171.20" font-size="3.9" text-anchor="middle" font-weight="bold" fill="#333">5</text>
<line x1="432.00" y1="165.30" x2="432.00" y2="167.50" stroke="#333" stroke-width="0.7"/>
<text x="432.00" y="171.20" font-size="3.9" text-anchor="middle" font-weight="bold" fill="#333">10</text>
<text x="393.50" y="177.20" font-size="4.7" text-anchor="middle" font-weight="bold" fill="#222">percentage</text>
<rect x="132.30" y="187.07" width="52.10" height="3.26" fill="#0b2bf2" stroke="#0a1660" stroke-width="0.9"/>
<line x1="130.10" y1="188.70" x2="132.30" y2="188.70" stroke="#333" stroke-width="0.5"/>
<text x="129.30" y="190.67" font-size="5.48" text-anchor="end" fill="#262626" textLength="59.18" lengthAdjust="spacingAndGlyphs">regulation of cell migration</text>
<text x="185.20" y="190.10" font-size="3.9" text-anchor="start" font-weight="bold" fill="#2a2a2a">(6.30e-4)</text>
<rect x="132.30" y="192.88" width="11.50" height="3.26" fill="#0b2bf2" stroke="#0a1660" stroke-width="0.9"/>
<line x1="130.10" y1="194.51" x2="132.30" y2="194.51" stroke="#333" stroke-width="0.5"/>
<text x="129.30" y="196.48" font-size="5.48" text-anchor="end" fill="#262626" textLength="68.77" lengthAdjust="spacingAndGlyphs">regulation of integrin activation</text>
<text x="144.60" y="195.92" font-size="3.9" text-anchor="start" font-weight="bold" fill="#2a2a2a">(8.67e-4)</text>
<rect x="132.30" y="198.70" width="29.00" height="3.26" fill="#0b2bf2" stroke="#0a1660" stroke-width="0.9"/>
<line x1="130.10" y1="200.32" x2="132.30" y2="200.32" stroke="#333" stroke-width="0.5"/>
<text x="129.30" y="202.30" font-size="5.48" text-anchor="end" fill="#262626" textLength="62.58" lengthAdjust="spacingAndGlyphs">regulation of protein binding</text>
<text x="162.10" y="201.73" font-size="3.9" text-anchor="start" font-weight="bold" fill="#2a2a2a">(5.02e-4)</text>
<rect x="132.30" y="204.51" width="11.50" height="3.26" fill="#0b2bf2" stroke="#0a1660" stroke-width="0.9"/>
<line x1="130.10" y1="206.14" x2="132.30" y2="206.14" stroke="#333" stroke-width="0.5"/>
<text x="129.30" y="208.11" font-size="5.48" text-anchor="end" fill="#262626" textLength="48.20" lengthAdjust="spacingAndGlyphs">L-methionine salvage</text>
<text x="144.60" y="207.54" font-size="3.9" text-anchor="start" font-weight="bold" fill="#2a2a2a">(4.98e-4)</text>
<rect x="132.30" y="210.32" width="17.30" height="3.26" fill="#0b2bf2" stroke="#0a1660" stroke-width="0.9"/>
<line x1="130.10" y1="211.95" x2="132.30" y2="211.95" stroke="#333" stroke-width="0.5"/>
<text x="129.30" y="213.92" font-size="5.48" text-anchor="end" fill="#262626" textLength="94.41" lengthAdjust="spacingAndGlyphs">membrane protein ectodomain proteolysis</text>
<text x="150.40" y="213.35" font-size="3.9" text-anchor="start" font-weight="bold" fill="#2a2a2a">(3.88e-4)</text>
<rect x="132.30" y="216.13" width="34.30" height="3.26" fill="#0b2bf2" stroke="#0a1660" stroke-width="0.9"/>
<line x1="130.10" y1="217.76" x2="132.30" y2="217.76" stroke="#333" stroke-width="0.5"/>
<text x="129.30" y="219.73" font-size="5.48" text-anchor="end" fill="#262626" textLength="70.18" lengthAdjust="spacingAndGlyphs">peptidyl-serine phosphorylation</text>
<text x="167.40" y="219.17" font-size="3.9" text-anchor="start" font-weight="bold" fill="#2a2a2a">(3.65e-4)</text>
<rect x="132.30" y="221.95" width="46.40" height="3.26" fill="#0b2bf2" stroke="#0a1660" stroke-width="0.9"/>
<line x1="130.10" y1="223.57" x2="132.30" y2="223.57" stroke="#333" stroke-width="0.5"/>
<text x="129.30" y="225.55" font-size="5.48" text-anchor="end" fill="#262626" textLength="96.95" lengthAdjust="spacingAndGlyphs">regulation of cellular component movement</text>
<text x="179.50" y="224.98" font-size="3.9" text-anchor="start" font-weight="bold" fill="#2a2a2a">(1.78e-4)</text>
<rect x="132.30" y="227.76" width="46.40" height="3.26" fill="#0b2bf2" stroke="#0a1660" stroke-width="0.9"/>
<line x1="130.10" y1="229.39" x2="132.30" y2="229.39" stroke="#333" stroke-width="0.5"/>
<text x="129.30" y="231.36" font-size="5.48" text-anchor="end" fill="#262626" textLength="77.78" lengthAdjust="spacingAndGlyphs">positive regulation of cell migration</text>
<text x="179.50" y="230.79" font-size="3.9" text-anchor="start" font-weight="bold" fill="#2a2a2a">(1.22e-4)</text>
<rect x="132.30" y="233.57" width="23.40" height="3.26" fill="#0b2bf2" stroke="#0a1660" stroke-width="0.9"/>
<line x1="130.10" y1="235.20" x2="132.30" y2="235.20" stroke="#333" stroke-width="0.5"/>
<text x="129.30" y="237.17" font-size="5.48" text-anchor="end" fill="#262626" textLength="94.41" lengthAdjust="spacingAndGlyphs">positive regulation of podosome assembly</text>
<text x="156.50" y="236.60" font-size="3.9" text-anchor="start" font-weight="bold" fill="#2a2a2a">(8.31e-8)</text>
<line x1="132.30" y1="184.50" x2="132.30" y2="238.60" stroke="#333" stroke-width="0.8"/>
<line x1="132.30" y1="238.60" x2="214.00" y2="238.60" stroke="#333" stroke-width="0.8"/>
<line x1="132.30" y1="238.60" x2="132.30" y2="240.80" stroke="#333" stroke-width="0.7"/>
<text x="132.30" y="244.60" font-size="3.9" text-anchor="middle" font-weight="bold" fill="#333">0</text>
<line x1="159.53" y1="238.60" x2="159.53" y2="240.80" stroke="#333" stroke-width="0.7"/>
<text x="159.53" y="244.60" font-size="3.9" text-anchor="middle" font-weight="bold" fill="#333">5</text>
<line x1="186.77" y1="238.60" x2="186.77" y2="240.80" stroke="#333" stroke-width="0.7"/>
<text x="186.77" y="244.60" font-size="3.9" text-anchor="middle" font-weight="bold" fill="#333">10</text>
<line x1="214.00" y1="238.60" x2="214.00" y2="240.80" stroke="#333" stroke-width="0.7"/>
<text x="214.00" y="244.60" font-size="3.9" text-anchor="middle" font-weight="bold" fill="#333">15</text>
<text x="174.70" y="249.00" font-size="4.7" text-anchor="middle" font-weight="bold" fill="#222">percentage</text>
<rect x="345.30" y="185.28" width="13.40" height="2.24" fill="#ff2a00" stroke="#6a1a0a" stroke-width="0.9"/>
<line x1="343.10" y1="186.40" x2="345.30" y2="186.40" stroke="#333" stroke-width="0.5"/>
<text x="342.30" y="188.37" font-size="5.48" text-anchor="end" fill="#262626" textLength="124.00" lengthAdjust="spacingAndGlyphs">regulation of cellular response to growth factor stimulus</text>
<text x="359.50" y="187.80" font-size="3.9" text-anchor="start" font-weight="bold" fill="#2a2a2a">(4.24e-4)</text>
<rect x="345.30" y="189.27" width="50.30" height="2.24" fill="#ff2a00" stroke="#6a1a0a" stroke-width="0.9"/>
<line x1="343.10" y1="190.39" x2="345.30" y2="190.39" stroke="#333" stroke-width="0.5"/>
<text x="342.30" y="192.36" font-size="5.48" text-anchor="end" fill="#262626" textLength="84.27" lengthAdjust="spacingAndGlyphs">regulation of hindlimb morphogenesis</text>
<text x="396.40" y="191.80" font-size="3.9" text-anchor="start" font-weight="bold" fill="#2a2a2a">(4.22e-4)</text>
<rect x="345.30" y="193.27" width="48.30" height="2.24" fill="#ff2a00" stroke="#6a1a0a" stroke-width="0.9"/>
<line x1="343.10" y1="194.38" x2="345.30" y2="194.38" stroke="#333" stroke-width="0.5"/>
<text x="342.30" y="196.36" font-size="5.48" text-anchor="end" fill="#262626" textLength="60.79" lengthAdjust="spacingAndGlyphs">epithelial cell differentiation</text>
<text x="394.40" y="195.79" font-size="3.9" text-anchor="start" font-weight="bold" fill="#2a2a2a">(1.22e-4)</text>
<rect x="345.30" y="197.26" width="70.20" height="2.24" fill="#ff2a00" stroke="#6a1a0a" stroke-width="0.9"/>
<line x1="343.10" y1="198.38" x2="345.30" y2="198.38" stroke="#333" stroke-width="0.5"/>
<text x="342.30" y="200.35" font-size="5.48" text-anchor="end" fill="#262626" textLength="53.55" lengthAdjust="spacingAndGlyphs">epithelium development</text>
<text x="416.30" y="199.78" font-size="3.9" text-anchor="start" font-weight="bold" fill="#2a2a2a">(2.84e-4)</text>
<rect x="345.30" y="201.25" width="21.10" height="2.24" fill="#ff2a00" stroke="#6a1a0a" stroke-width="0.9"/>
<line x1="343.10" y1="202.37" x2="345.30" y2="202.37" stroke="#333" stroke-width="0.5"/>
<text x="342.30" y="204.34" font-size="5.48" text-anchor="end" fill="#262626" textLength="110.76" lengthAdjust="spacingAndGlyphs">regulation of calcium-mediated signaling pathway</text>
<text x="367.20" y="203.77" font-size="3.9" text-anchor="start" font-weight="bold" fill="#2a2a2a">(1.84e-4)</text>
<rect x="345.30" y="205.24" width="15.80" height="2.24" fill="#ff2a00" stroke="#6a1a0a" stroke-width="0.9"/>
<line x1="343.10" y1="206.36" x2="345.30" y2="206.36" stroke="#333" stroke-width="0.5"/>
<text x="342.30" y="208.33" font-size="5.48" text-anchor="end" fill="#262626" textLength="101.17" lengthAdjust="spacingAndGlyphs">regulation of FGF receptor signaling pathway</text>
<text x="361.90" y="207.77" font-size="3.9" text-anchor="start" font-weight="bold" fill="#2a2a2a">(1.48e-4)</text>
<rect x="345.30" y="209.24" width="36.90" height="2.24" fill="#ff2a00" stroke="#6a1a0a" stroke-width="0.9"/>
<line x1="343.10" y1="210.35" x2="345.30" y2="210.35" stroke="#333" stroke-width="0.5"/>
<text x="342.30" y="212.33" font-size="5.48" text-anchor="end" fill="#262626" textLength="52.42" lengthAdjust="spacingAndGlyphs">epidermis development</text>
<text x="383.00" y="211.76" font-size="3.9" text-anchor="start" font-weight="bold" fill="#2a2a2a">(1.32e-4)</text>
<rect x="345.30" y="213.23" width="29.60" height="2.24" fill="#ff2a00" stroke="#6a1a0a" stroke-width="0.9"/>
<line x1="343.10" y1="214.35" x2="345.30" y2="214.35" stroke="#333" stroke-width="0.5"/>
<text x="342.30" y="216.32" font-size="5.48" text-anchor="end" fill="#262626" textLength="59.09" lengthAdjust="spacingAndGlyphs">keratinocyte differentiation</text>
<text x="375.70" y="215.75" font-size="3.9" text-anchor="start" font-weight="bold" fill="#2a2a2a">(6.98e-5)</text>
<rect x="345.30" y="217.22" width="16.30" height="2.24" fill="#ff2a00" stroke="#6a1a0a" stroke-width="0.9"/>
<line x1="343.10" y1="218.34" x2="345.30" y2="218.34" stroke="#333" stroke-width="0.5"/>
<text x="342.30" y="220.31" font-size="5.48" text-anchor="end" fill="#262626" textLength="70.45" lengthAdjust="spacingAndGlyphs">regulation of water loss via skin</text>
<text x="362.40" y="219.74" font-size="3.9" text-anchor="start" font-weight="bold" fill="#2a2a2a">(7.67e-5)</text>
<rect x="345.30" y="221.21" width="32.10" height="2.24" fill="#ff2a00" stroke="#6a1a0a" stroke-width="0.9"/>
<line x1="343.10" y1="222.33" x2="345.30" y2="222.33" stroke="#333" stroke-width="0.5"/>
<text x="342.30" y="224.30" font-size="5.48" text-anchor="end" fill="#262626" textLength="63.04" lengthAdjust="spacingAndGlyphs">epidermal cell differentiation</text>
<text x="378.20" y="223.73" font-size="3.9" text-anchor="start" font-weight="bold" fill="#2a2a2a">(5.31e-5)</text>
<rect x="345.30" y="225.21" width="53.90" height="2.24" fill="#ff2a00" stroke="#6a1a0a" stroke-width="0.9"/>
<line x1="343.10" y1="226.32" x2="345.30" y2="226.32" stroke="#333" stroke-width="0.5"/>
<text x="342.30" y="228.29" font-size="5.48" text-anchor="end" fill="#262626" textLength="58.63" lengthAdjust="spacingAndGlyphs">blood vessel development</text>
<text x="400.00" y="227.73" font-size="3.9" text-anchor="start" font-weight="bold" fill="#2a2a2a">(5.38e-5)</text>
<rect x="345.30" y="229.20" width="16.30" height="2.24" fill="#ff2a00" stroke="#6a1a0a" stroke-width="0.9"/>
<line x1="343.10" y1="230.32" x2="345.30" y2="230.32" stroke="#333" stroke-width="0.5"/>
<text x="342.30" y="232.29" font-size="5.48" text-anchor="end" fill="#262626" textLength="63.40" lengthAdjust="spacingAndGlyphs">establishment of skin barrier</text>
<text x="362.40" y="231.72" font-size="3.9" text-anchor="start" font-weight="bold" fill="#2a2a2a">(4.48e-5)</text>
<rect x="345.30" y="233.19" width="43.00" height="2.24" fill="#ff2a00" stroke="#6a1a0a" stroke-width="0.9"/>
<line x1="343.10" y1="234.31" x2="345.30" y2="234.31" stroke="#333" stroke-width="0.5"/>
<text x="342.30" y="236.28" font-size="5.48" text-anchor="end" fill="#262626" textLength="45.10" lengthAdjust="spacingAndGlyphs">kidney development</text>
<text x="389.10" y="235.71" font-size="3.9" text-anchor="start" font-weight="bold" fill="#2a2a2a">(5.25e-6)</text>
<rect x="345.30" y="237.18" width="48.30" height="2.24" fill="#ff2a00" stroke="#6a1a0a" stroke-width="0.9"/>
<line x1="343.10" y1="238.30" x2="345.30" y2="238.30" stroke="#333" stroke-width="0.5"/>
<text x="342.30" y="240.27" font-size="5.48" text-anchor="end" fill="#262626" textLength="39.46" lengthAdjust="spacingAndGlyphs">skin development</text>
<text x="394.40" y="239.70" font-size="3.9" text-anchor="start" font-weight="bold" fill="#2a2a2a">(3.29e-7)</text>
<line x1="345.30" y1="183.50" x2="345.30" y2="241.40" stroke="#333" stroke-width="0.8"/>
<line x1="345.30" y1="241.40" x2="430.00" y2="241.40" stroke="#333" stroke-width="0.8"/>
<line x1="345.80" y1="241.40" x2="345.80" y2="243.60" stroke="#333" stroke-width="0.7"/>
<text x="345.80" y="247.30" font-size="3.9" text-anchor="middle" font-weight="bold" fill="#333">0</text>
<line x1="373.87" y1="241.40" x2="373.87" y2="243.60" stroke="#333" stroke-width="0.7"/>
<text x="373.87" y="247.30" font-size="3.9" text-anchor="middle" font-weight="bold" fill="#333">5</text>
<line x1="401.93" y1="241.40" x2="401.93" y2="243.60" stroke="#333" stroke-width="0.7"/>
<text x="401.93" y="247.30" font-size="3.9" text-anchor="middle" font-weight="bold" fill="#333">10</text>
<line x1="430.00" y1="241.40" x2="430.00" y2="243.60" stroke="#333" stroke-width="0.7"/>
<text x="430.00" y="247.30" font-size="3.9" text-anchor="middle" font-weight="bold" fill="#333">15</text>
<text x="389.50" y="252.00" font-size="4.7" text-anchor="middle" font-weight="bold" fill="#222">percentage</text>
<rect x="137.50" y="257.99" width="30.30" height="3.02" fill="#0b2bf2" stroke="#0a1660" stroke-width="0.9"/>
<line x1="135.30" y1="259.50" x2="137.50" y2="259.50" stroke="#333" stroke-width="0.5"/>
<text x="134.50" y="261.47" font-size="5.48" text-anchor="end" fill="#262626" textLength="57.21" lengthAdjust="spacingAndGlyphs">cytoskeleton organization</text>
<text x="168.60" y="260.90" font-size="3.9" text-anchor="start" font-weight="bold" fill="#2a2a2a">(7.87e-11)</text>
<rect x="137.50" y="263.39" width="10.00" height="3.02" fill="#0b2bf2" stroke="#0a1660" stroke-width="0.9"/>
<line x1="135.30" y1="264.90" x2="137.50" y2="264.90" stroke="#333" stroke-width="0.5"/>
<text x="134.50" y="266.87" font-size="5.48" text-anchor="end" fill="#262626" textLength="77.20" lengthAdjust="spacingAndGlyphs">G1/S transition of mitotic cell cycle</text>
<text x="148.30" y="266.30" font-size="3.9" text-anchor="start" font-weight="bold" fill="#2a2a2a">(6.27e-16)</text>
<rect x="137.50" y="268.79" width="21.70" height="3.02" fill="#0b2bf2" stroke="#0a1660" stroke-width="0.9"/>
<line x1="135.30" y1="270.30" x2="137.50" y2="270.30" stroke="#333" stroke-width="0.5"/>
<text x="134.50" y="272.27" font-size="5.48" text-anchor="end" fill="#262626" textLength="57.77" lengthAdjust="spacingAndGlyphs">cell cycle phase transition</text>
<text x="160.00" y="271.70" font-size="3.9" text-anchor="start" font-weight="bold" fill="#2a2a2a">(3.17e-29)</text>
<rect x="137.50" y="274.19" width="15.50" height="3.02" fill="#0b2bf2" stroke="#0a1660" stroke-width="0.9"/>
<line x1="135.30" y1="275.70" x2="137.50" y2="275.70" stroke="#333" stroke-width="0.5"/>
<text x="134.50" y="277.67" font-size="5.48" text-anchor="end" fill="#262626" textLength="57.21" lengthAdjust="spacingAndGlyphs">chromosome segregation</text>
<text x="153.80" y="277.10" font-size="3.9" text-anchor="start" font-weight="bold" fill="#2a2a2a">(3.99e-30)</text>
<rect x="137.50" y="279.59" width="25.40" height="3.02" fill="#0b2bf2" stroke="#0a1660" stroke-width="0.9"/>
<line x1="135.30" y1="281.10" x2="137.50" y2="281.10" stroke="#333" stroke-width="0.5"/>
<text x="134.50" y="283.07" font-size="5.48" text-anchor="end" fill="#262626" textLength="56.92" lengthAdjust="spacingAndGlyphs">mRNA metabolic process</text>
<text x="163.70" y="282.50" font-size="3.9" text-anchor="start" font-weight="bold" fill="#2a2a2a">(6.28e-31)</text>
<rect x="137.50" y="284.99" width="34.90" height="3.02" fill="#0b2bf2" stroke="#0a1660" stroke-width="0.9"/>
<line x1="135.30" y1="286.50" x2="137.50" y2="286.50" stroke="#333" stroke-width="0.5"/>
<text x="134.50" y="288.47" font-size="5.48" text-anchor="end" fill="#262626" textLength="116.67" lengthAdjust="spacingAndGlyphs">modification by small protein conjugation or removal</text>
<text x="173.20" y="287.90" font-size="3.9" text-anchor="start" font-weight="bold" fill="#2a2a2a">(2.52e-32)</text>
<rect x="137.50" y="290.39" width="34.50" height="3.02" fill="#0b2bf2" stroke="#0a1660" stroke-width="0.9"/>
<line x1="135.30" y1="291.90" x2="137.50" y2="291.90" stroke="#333" stroke-width="0.5"/>
<text x="134.50" y="293.87" font-size="5.48" text-anchor="end" fill="#262626" textLength="36.35" lengthAdjust="spacingAndGlyphs">RNA processing</text>
<text x="172.80" y="293.30" font-size="3.9" text-anchor="start" font-weight="bold" fill="#2a2a2a">(1.08e-41)</text>
<rect x="137.50" y="295.79" width="41.80" height="3.02" fill="#0b2bf2" stroke="#0a1660" stroke-width="0.9"/>
<line x1="135.30" y1="297.30" x2="137.50" y2="297.30" stroke="#333" stroke-width="0.5"/>
<text x="134.50" y="299.27" font-size="5.48" text-anchor="end" fill="#262626" textLength="58.34" lengthAdjust="spacingAndGlyphs">chromosome organization</text>
<text x="180.10" y="298.70" font-size="3.9" text-anchor="start" font-weight="bold" fill="#2a2a2a">(4.72e-43)</text>
<rect x="137.50" y="301.19" width="39.80" height="3.02" fill="#0b2bf2" stroke="#0a1660" stroke-width="0.9"/>
<line x1="135.30" y1="302.70" x2="137.50" y2="302.70" stroke="#333" stroke-width="0.5"/>
<text x="134.50" y="304.67" font-size="5.48" text-anchor="end" fill="#262626" textLength="36.62" lengthAdjust="spacingAndGlyphs">mitotic cell cycle</text>
<text x="178.10" y="304.10" font-size="3.9" text-anchor="start" font-weight="bold" fill="#2a2a2a">(1.47e-50)</text>
<line x1="137.50" y1="255.50" x2="137.50" y2="306.40" stroke="#333" stroke-width="0.8"/>
<line x1="137.50" y1="306.40" x2="213.70" y2="306.40" stroke="#333" stroke-width="0.8"/>
<line x1="137.50" y1="306.40" x2="137.50" y2="308.60" stroke="#333" stroke-width="0.7"/>
<text x="137.50" y="312.50" font-size="3.9" text-anchor="middle" font-weight="bold" fill="#333">0</text>
<line x1="162.90" y1="306.40" x2="162.90" y2="308.60" stroke="#333" stroke-width="0.7"/>
<text x="162.90" y="312.50" font-size="3.9" text-anchor="middle" font-weight="bold" fill="#333">5</text>
<line x1="188.30" y1="306.40" x2="188.30" y2="308.60" stroke="#333" stroke-width="0.7"/>
<text x="188.30" y="312.50" font-size="3.9" text-anchor="middle" font-weight="bold" fill="#333">10</text>
<line x1="213.70" y1="306.40" x2="213.70" y2="308.60" stroke="#333" stroke-width="0.7"/>
<text x="213.70" y="312.50" font-size="3.9" text-anchor="middle" font-weight="bold" fill="#333">15</text>
<text x="170.60" y="316.80" font-size="4.7" text-anchor="middle" font-weight="bold" fill="#222">percentage</text>
<rect x="356.00" y="258.52" width="5.10" height="3.36" fill="#ff2a00" stroke="#6a1a0a" stroke-width="0.9"/>
<line x1="353.80" y1="260.20" x2="356.00" y2="260.20" stroke="#333" stroke-width="0.5"/>
<text x="353.00" y="262.17" font-size="5.48" text-anchor="end" fill="#262626" textLength="136.41" lengthAdjust="spacingAndGlyphs">PLC-activating G protein-coupled receptor signaling pathway</text>
<text x="361.90" y="261.60" font-size="3.9" text-anchor="start" font-weight="bold" fill="#2a2a2a">(1.17e-6)</text>
<rect x="356.00" y="264.52" width="5.10" height="3.36" fill="#ff2a00" stroke="#6a1a0a" stroke-width="0.9"/>
<line x1="353.80" y1="266.20" x2="356.00" y2="266.20" stroke="#333" stroke-width="0.5"/>
<text x="353.00" y="268.17" font-size="5.48" text-anchor="end" fill="#262626" textLength="59.47" lengthAdjust="spacingAndGlyphs">collagen catabolic process</text>
<text x="361.90" y="267.60" font-size="3.9" text-anchor="start" font-weight="bold" fill="#2a2a2a">(4.23e-7)</text>
<rect x="356.00" y="270.52" width="12.90" height="3.36" fill="#ff2a00" stroke="#6a1a0a" stroke-width="0.9"/>
<line x1="353.80" y1="272.20" x2="356.00" y2="272.20" stroke="#333" stroke-width="0.5"/>
<text x="353.00" y="274.17" font-size="5.48" text-anchor="end" fill="#262626" textLength="46.49" lengthAdjust="spacingAndGlyphs">cell fate commitment</text>
<text x="369.70" y="273.60" font-size="3.9" text-anchor="start" font-weight="bold" fill="#2a2a2a">(7.25e-8)</text>
<rect x="356.00" y="276.52" width="42.00" height="3.36" fill="#ff2a00" stroke="#6a1a0a" stroke-width="0.9"/>
<line x1="353.80" y1="278.20" x2="356.00" y2="278.20" stroke="#333" stroke-width="0.5"/>
<text x="353.00" y="280.17" font-size="5.48" text-anchor="end" fill="#262626" textLength="102.03" lengthAdjust="spacingAndGlyphs">G protein-coupled receptor signaling pathway</text>
<text x="398.80" y="279.60" font-size="3.9" text-anchor="start" font-weight="bold" fill="#2a2a2a">(6.68e-8)</text>
<rect x="356.00" y="282.52" width="26.20" height="3.36" fill="#ff2a00" stroke="#6a1a0a" stroke-width="0.9"/>
<line x1="353.80" y1="284.20" x2="356.00" y2="284.20" stroke="#333" stroke-width="0.5"/>
<text x="353.00" y="286.17" font-size="5.48" text-anchor="end" fill="#262626" textLength="57.50" lengthAdjust="spacingAndGlyphs">regulation of ion transport</text>
<text x="383.00" y="285.60" font-size="3.9" text-anchor="start" font-weight="bold" fill="#2a2a2a">(3.52e-10)</text>
<rect x="356.00" y="288.52" width="51.00" height="3.36" fill="#ff2a00" stroke="#6a1a0a" stroke-width="0.9"/>
<line x1="353.80" y1="290.20" x2="356.00" y2="290.20" stroke="#333" stroke-width="0.5"/>
<text x="353.00" y="292.17" font-size="5.48" text-anchor="end" fill="#262626" textLength="54.66" lengthAdjust="spacingAndGlyphs">nervous system process</text>
<text x="407.80" y="291.60" font-size="3.9" text-anchor="start" font-weight="bold" fill="#2a2a2a">(2.36e-14)</text>
<rect x="356.00" y="294.52" width="29.90" height="3.36" fill="#ff2a00" stroke="#6a1a0a" stroke-width="0.9"/>
<line x1="353.80" y1="296.20" x2="356.00" y2="296.20" stroke="#333" stroke-width="0.5"/>
<text x="353.00" y="298.17" font-size="5.48" text-anchor="end" fill="#262626" textLength="40.02" lengthAdjust="spacingAndGlyphs">synaptic signaling</text>
<text x="386.70" y="297.60" font-size="3.9" text-anchor="start" font-weight="bold" fill="#2a2a2a">(4.13e-15)</text>
<rect x="356.00" y="300.52" width="47.60" height="3.36" fill="#ff2a00" stroke="#6a1a0a" stroke-width="0.9"/>
<line x1="353.80" y1="302.20" x2="356.00" y2="302.20" stroke="#333" stroke-width="0.5"/>
<text x="353.00" y="304.17" font-size="5.48" text-anchor="end" fill="#262626" textLength="38.33" lengthAdjust="spacingAndGlyphs">cell-cell signaling</text>
<text x="404.40" y="303.60" font-size="3.9" text-anchor="start" font-weight="bold" fill="#2a2a2a">(2.84e-17)</text>
<line x1="356.00" y1="256.50" x2="356.00" y2="307.00" stroke="#333" stroke-width="0.8"/>
<line x1="356.00" y1="307.00" x2="432.00" y2="307.00" stroke="#333" stroke-width="0.8"/>
<line x1="356.00" y1="307.00" x2="356.00" y2="309.20" stroke="#333" stroke-width="0.7"/>
<text x="356.00" y="312.00" font-size="3.9" text-anchor="middle" font-weight="bold" fill="#333">0</text>
<line x1="394.00" y1="307.00" x2="394.00" y2="309.20" stroke="#333" stroke-width="0.7"/>
<text x="394.00" y="312.00" font-size="3.9" text-anchor="middle" font-weight="bold" fill="#333">5</text>
<line x1="432.00" y1="307.00" x2="432.00" y2="309.20" stroke="#333" stroke-width="0.7"/>
<text x="432.00" y="312.00" font-size="3.9" text-anchor="middle" font-weight="bold" fill="#333">10</text>
<text x="393.00" y="317.20" font-size="4.7" text-anchor="middle" font-weight="bold" fill="#222">percentage</text>
<rect x="126.30" y="336.34" width="5.60" height="2.31" fill="#0b2bf2" stroke="#0a1660" stroke-width="0.9"/>
<line x1="124.10" y1="337.50" x2="126.30" y2="337.50" stroke="#333" stroke-width="0.5"/>
<text x="123.30" y="339.47" font-size="5.48" text-anchor="end" fill="#262626" textLength="92.71" lengthAdjust="spacingAndGlyphs">non-integrin membrane-ECM interactions</text>
<text x="132.70" y="338.90" font-size="3.9" text-anchor="start" font-weight="bold" fill="#2a2a2a">(1.44e-6)</text>
<rect x="126.30" y="340.47" width="15.00" height="2.31" fill="#0b2bf2" stroke="#0a1660" stroke-width="0.9"/>
<line x1="124.10" y1="341.63" x2="126.30" y2="341.63" stroke="#333" stroke-width="0.5"/>
<text x="123.30" y="343.60" font-size="5.48" text-anchor="end" fill="#262626" textLength="53.82" lengthAdjust="spacingAndGlyphs">mitotic G1-G1/S phases</text>
<text x="142.10" y="343.03" font-size="3.9" text-anchor="start" font-weight="bold" fill="#2a2a2a">(8.71e-14)</text>
<rect x="126.30" y="344.60" width="18.70" height="2.31" fill="#0b2bf2" stroke="#0a1660" stroke-width="0.9"/>
<line x1="124.10" y1="345.75" x2="126.30" y2="345.75" stroke="#333" stroke-width="0.5"/>
<text x="123.30" y="347.73" font-size="5.48" text-anchor="end" fill="#262626" textLength="69.04" lengthAdjust="spacingAndGlyphs">separation of sister chromatids</text>
<text x="145.80" y="347.16" font-size="3.9" text-anchor="start" font-weight="bold" fill="#2a2a2a">(2.88e-16)</text>
<rect x="126.30" y="348.73" width="19.70" height="2.31" fill="#0b2bf2" stroke="#0a1660" stroke-width="0.9"/>
<line x1="124.10" y1="349.88" x2="126.30" y2="349.88" stroke="#333" stroke-width="0.5"/>
<text x="123.30" y="351.85" font-size="5.48" text-anchor="end" fill="#262626" textLength="74.69" lengthAdjust="spacingAndGlyphs">mitotic metaphase and anaphase</text>
<text x="146.80" y="351.29" font-size="3.9" text-anchor="start" font-weight="bold" fill="#2a2a2a">(2.47e-18)</text>
<rect x="126.30" y="352.85" width="32.80" height="2.31" fill="#0b2bf2" stroke="#0a1660" stroke-width="0.9"/>
<line x1="124.10" y1="354.01" x2="126.30" y2="354.01" stroke="#333" stroke-width="0.5"/>
<text x="123.30" y="355.98" font-size="5.48" text-anchor="end" fill="#262626" textLength="60.03" lengthAdjust="spacingAndGlyphs">signaling by Rho GTPases</text>
<text x="159.90" y="355.41" font-size="3.9" text-anchor="start" font-weight="bold" fill="#2a2a2a">(8.08e-21)</text>
<rect x="126.30" y="356.98" width="17.40" height="2.31" fill="#0b2bf2" stroke="#0a1660" stroke-width="0.9"/>
<line x1="124.10" y1="358.14" x2="126.30" y2="358.14" stroke="#333" stroke-width="0.5"/>
<text x="123.30" y="360.11" font-size="5.48" text-anchor="end" fill="#262626" textLength="68.75" lengthAdjust="spacingAndGlyphs">Rho GTPases activate formins</text>
<text x="144.50" y="359.54" font-size="3.9" text-anchor="start" font-weight="bold" fill="#2a2a2a">(9.71e-23)</text>
<rect x="126.30" y="361.11" width="28.50" height="2.31" fill="#0b2bf2" stroke="#0a1660" stroke-width="0.9"/>
<line x1="124.10" y1="362.26" x2="126.30" y2="362.26" stroke="#333" stroke-width="0.5"/>
<text x="123.30" y="364.23" font-size="5.48" text-anchor="end" fill="#262626" textLength="50.07" lengthAdjust="spacingAndGlyphs">Rho GTPase effectors</text>
<text x="155.60" y="363.67" font-size="3.9" text-anchor="start" font-weight="bold" fill="#2a2a2a">(1.04e-25)</text>
<rect x="126.30" y="365.24" width="17.40" height="2.31" fill="#0b2bf2" stroke="#0a1660" stroke-width="0.9"/>
<line x1="124.10" y1="366.39" x2="126.30" y2="366.39" stroke="#333" stroke-width="0.5"/>
<text x="123.30" y="368.36" font-size="5.48" text-anchor="end" fill="#262626" textLength="86.52" lengthAdjust="spacingAndGlyphs">resolution of sister chromatid cohesion</text>
<text x="144.50" y="367.79" font-size="3.9" text-anchor="start" font-weight="bold" fill="#2a2a2a">(2.15e-26)</text>
<rect x="126.30" y="369.36" width="19.70" height="2.31" fill="#0b2bf2" stroke="#0a1660" stroke-width="0.9"/>
<line x1="124.10" y1="370.52" x2="126.30" y2="370.52" stroke="#333" stroke-width="0.5"/>
<text x="123.30" y="372.49" font-size="5.48" text-anchor="end" fill="#262626" textLength="48.47" lengthAdjust="spacingAndGlyphs">mitotic prometaphase</text>
<text x="146.80" y="371.92" font-size="3.9" text-anchor="start" font-weight="bold" fill="#2a2a2a">(4.41e-29)</text>
<rect x="126.30" y="373.49" width="32.40" height="2.31" fill="#0b2bf2" stroke="#0a1660" stroke-width="0.9"/>
<line x1="124.10" y1="374.65" x2="126.30" y2="374.65" stroke="#333" stroke-width="0.5"/>
<text x="123.30" y="376.62" font-size="5.48" text-anchor="end" fill="#262626" textLength="19.45" lengthAdjust="spacingAndGlyphs">M phase</text>
<text x="159.50" y="376.05" font-size="3.9" text-anchor="start" font-weight="bold" fill="#2a2a2a">(4.83e-30)</text>
<rect x="126.30" y="377.62" width="55.90" height="2.31" fill="#0b2bf2" stroke="#0a1660" stroke-width="0.9"/>
<line x1="124.10" y1="378.77" x2="126.30" y2="378.77" stroke="#333" stroke-width="0.5"/>
<text x="123.30" y="380.74" font-size="5.48" text-anchor="end" fill="#262626" textLength="36.62" lengthAdjust="spacingAndGlyphs">mitotic cell cycle</text>
<text x="183.00" y="380.18" font-size="3.9" text-anchor="start" font-weight="bold" fill="#2a2a2a">(4.14e-54)</text>
<rect x="126.30" y="381.74" width="64.40" height="2.31" fill="#0b2bf2" stroke="#0a1660" stroke-width="0.9"/>
<line x1="124.10" y1="382.90" x2="126.30" y2="382.90" stroke="#333" stroke-width="0.5"/>
<text x="123.30" y="384.87" font-size="5.48" text-anchor="end" fill="#262626" textLength="20.57" lengthAdjust="spacingAndGlyphs">cell cycle</text>
<text x="191.50" y="384.30" font-size="3.9" text-anchor="start" font-weight="bold" fill="#2a2a2a">(3.32e-58)</text>
<line x1="126.30" y1="333.50" x2="126.30" y2="385.30" stroke="#333" stroke-width="0.8"/>
<line x1="126.30" y1="385.30" x2="202.70" y2="385.30" stroke="#333" stroke-width="0.8"/>
<line x1="126.60" y1="385.30" x2="126.60" y2="387.50" stroke="#333" stroke-width="0.7"/>
<text x="126.60" y="391.20" font-size="3.9" text-anchor="middle" font-weight="bold" fill="#333">0</text>
<line x1="151.97" y1="385.30" x2="151.97" y2="387.50" stroke="#333" stroke-width="0.7"/>
<text x="151.97" y="391.20" font-size="3.9" text-anchor="middle" font-weight="bold" fill="#333">5</text>
<line x1="177.33" y1="385.30" x2="177.33" y2="387.50" stroke="#333" stroke-width="0.7"/>
<text x="177.33" y="391.20" font-size="3.9" text-anchor="middle" font-weight="bold" fill="#333">10</text>
<line x1="202.70" y1="385.30" x2="202.70" y2="387.50" stroke="#333" stroke-width="0.7"/>
<text x="202.70" y="391.20" font-size="3.9" text-anchor="middle" font-weight="bold" fill="#333">15</text>
<text x="166.90" y="396.00" font-size="4.7" text-anchor="middle" font-weight="bold" fill="#222">percentage</text>
<rect x="334.40" y="340.50" width="73.30" height="14.80" fill="#ff2a00" stroke="#6a1a0a" stroke-width="0.8"/>
<line x1="332.20" y1="347.90" x2="334.40" y2="347.90" stroke="#333" stroke-width="0.5"/>
<text x="331.40" y="349.76" font-size="5.17" text-anchor="end" fill="#262626" textLength="29.87" lengthAdjust="spacingAndGlyphs">keratinization</text>
<text x="408.50" y="349.30" font-size="3.9" text-anchor="start" font-weight="bold" fill="#2a2a2a">(6.49e-6)</text>
<rect x="334.40" y="362.60" width="47.50" height="14.30" fill="#ff2a00" stroke="#6a1a0a" stroke-width="0.8"/>
<line x1="332.20" y1="369.75" x2="334.40" y2="369.75" stroke="#333" stroke-width="0.5"/>
<text x="331.40" y="371.61" font-size="5.17" text-anchor="end" fill="#262626" textLength="69.33" lengthAdjust="spacingAndGlyphs">formation of cornified envelope</text>
<text x="382.70" y="371.15" font-size="3.9" text-anchor="start" font-weight="bold" fill="#2a2a2a">(1.84e-7)</text>
<line x1="334.40" y1="333.20" x2="334.40" y2="384.70" stroke="#333" stroke-width="0.8"/>
<line x1="334.40" y1="384.70" x2="411.00" y2="384.70" stroke="#333" stroke-width="0.8"/>
<line x1="334.40" y1="384.70" x2="334.40" y2="386.90" stroke="#333" stroke-width="0.7"/>
<text x="334.40" y="389.80" font-size="3.9" text-anchor="middle" font-weight="bold" fill="#333">0.0</text>
<line x1="349.72" y1="384.70" x2="349.72" y2="386.90" stroke="#333" stroke-width="0.7"/>
<text x="349.72" y="389.80" font-size="3.9" text-anchor="middle" font-weight="bold" fill="#333">0.5</text>
<line x1="365.04" y1="384.70" x2="365.04" y2="386.90" stroke="#333" stroke-width="0.7"/>
<text x="365.04" y="389.80" font-size="3.9" text-anchor="middle" font-weight="bold" fill="#333">1.0</text>
<line x1="380.36" y1="384.70" x2="380.36" y2="386.90" stroke="#333" stroke-width="0.7"/>
<text x="380.36" y="389.80" font-size="3.9" text-anchor="middle" font-weight="bold" fill="#333">1.5</text>
<line x1="395.68" y1="384.70" x2="395.68" y2="386.90" stroke="#333" stroke-width="0.7"/>
<text x="395.68" y="389.80" font-size="3.9" text-anchor="middle" font-weight="bold" fill="#333">2.0</text>
<line x1="411.00" y1="384.70" x2="411.00" y2="386.90" stroke="#333" stroke-width="0.7"/>
<text x="411.00" y="389.80" font-size="3.9" text-anchor="middle" font-weight="bold" fill="#333">2.5</text>
<text x="374.10" y="395.00" font-size="4.7" text-anchor="middle" font-weight="bold" fill="#222">percentage</text>
<rect x="126.70" y="413.80" width="42.20" height="14.80" fill="#0b2bf2" stroke="#0a1660" stroke-width="0.8"/>
<line x1="124.50" y1="421.20" x2="126.70" y2="421.20" stroke="#333" stroke-width="0.5"/>
<text x="123.70" y="423.06" font-size="5.17" text-anchor="end" fill="#262626" textLength="46.79" lengthAdjust="spacingAndGlyphs">endocrine resistance</text>
<text x="169.70" y="422.60" font-size="3.9" text-anchor="start" font-weight="bold" fill="#2a2a2a">(4.25e-4)</text>
<rect x="126.70" y="436.20" width="21.00" height="15.00" fill="#0b2bf2" stroke="#0a1660" stroke-width="0.8"/>
<line x1="124.50" y1="443.70" x2="126.70" y2="443.70" stroke="#333" stroke-width="0.5"/>
<text x="123.70" y="445.56" font-size="5.17" text-anchor="end" fill="#262626" textLength="63.98" lengthAdjust="spacingAndGlyphs">methionine salvage pathway</text>
<text x="148.50" y="445.10" font-size="3.9" text-anchor="start" font-weight="bold" fill="#2a2a2a">(1.73e-4)</text>
<line x1="126.70" y1="406.20" x2="126.70" y2="457.80" stroke="#333" stroke-width="0.8"/>
<line x1="126.70" y1="457.80" x2="205.50" y2="457.80" stroke="#333" stroke-width="0.8"/>
<line x1="126.70" y1="457.80" x2="126.70" y2="460.00" stroke="#333" stroke-width="0.7"/>
<text x="126.70" y="463.60" font-size="3.9" text-anchor="middle" font-weight="bold" fill="#333">0</text>
<line x1="146.40" y1="457.80" x2="146.40" y2="460.00" stroke="#333" stroke-width="0.7"/>
<text x="146.40" y="463.60" font-size="3.9" text-anchor="middle" font-weight="bold" fill="#333">2</text>
<line x1="166.10" y1="457.80" x2="166.10" y2="460.00" stroke="#333" stroke-width="0.7"/>
<text x="166.10" y="463.60" font-size="3.9" text-anchor="middle" font-weight="bold" fill="#333">4</text>
<line x1="185.80" y1="457.80" x2="185.80" y2="460.00" stroke="#333" stroke-width="0.7"/>
<text x="185.80" y="463.60" font-size="3.9" text-anchor="middle" font-weight="bold" fill="#333">6</text>
<line x1="205.50" y1="457.80" x2="205.50" y2="460.00" stroke="#333" stroke-width="0.7"/>
<text x="205.50" y="463.60" font-size="3.9" text-anchor="middle" font-weight="bold" fill="#333">8</text>
<text x="168.60" y="469.60" font-size="4.7" text-anchor="middle" font-weight="bold" fill="#222">percentage</text>
<rect x="333.30" y="412.10" width="34.80" height="10.40" fill="#ff2a00" stroke="#6a1a0a" stroke-width="0.8"/>
<line x1="331.10" y1="417.30" x2="333.30" y2="417.30" stroke="#333" stroke-width="0.5"/>
<text x="330.30" y="419.16" font-size="5.17" text-anchor="end" fill="#262626" textLength="53.55" lengthAdjust="spacingAndGlyphs">secreted soluble factors</text>
<text x="368.90" y="418.70" font-size="3.9" text-anchor="start" font-weight="bold" fill="#2a2a2a">(3.21e-4)</text>
<rect x="333.30" y="427.60" width="69.30" height="10.40" fill="#ff2a00" stroke="#6a1a0a" stroke-width="0.8"/>
<line x1="331.10" y1="432.80" x2="333.30" y2="432.80" stroke="#333" stroke-width="0.5"/>
<text x="330.30" y="434.66" font-size="5.17" text-anchor="end" fill="#262626" textLength="42.54" lengthAdjust="spacingAndGlyphs">extracellular matrix</text>
<text x="403.40" y="434.20" font-size="3.9" text-anchor="start" font-weight="bold" fill="#2a2a2a">(2.10e-5)</text>
<rect x="333.30" y="443.25" width="59.40" height="10.30" fill="#ff2a00" stroke="#6a1a0a" stroke-width="0.8"/>
<line x1="331.10" y1="448.40" x2="333.30" y2="448.40" stroke="#333" stroke-width="0.5"/>
<text x="330.30" y="450.26" font-size="5.17" text-anchor="end" fill="#262626" textLength="56.64" lengthAdjust="spacingAndGlyphs">ECM-associated proteins</text>
<text x="393.50" y="449.80" font-size="3.9" text-anchor="start" font-weight="bold" fill="#2a2a2a">(3.60e-5)</text>
<line x1="333.30" y1="406.60" x2="333.30" y2="458.30" stroke="#333" stroke-width="0.8"/>
<line x1="333.30" y1="458.30" x2="412.30" y2="458.30" stroke="#333" stroke-width="0.8"/>
<line x1="333.30" y1="458.30" x2="333.30" y2="460.50" stroke="#333" stroke-width="0.7"/>
<text x="333.30" y="464.20" font-size="3.9" text-anchor="middle" font-weight="bold" fill="#333">0</text>
<line x1="359.63" y1="458.30" x2="359.63" y2="460.50" stroke="#333" stroke-width="0.7"/>
<text x="359.63" y="464.20" font-size="3.9" text-anchor="middle" font-weight="bold" fill="#333">5</text>
<line x1="385.97" y1="458.30" x2="385.97" y2="460.50" stroke="#333" stroke-width="0.7"/>
<text x="385.97" y="464.20" font-size="3.9" text-anchor="middle" font-weight="bold" fill="#333">10</text>
<line x1="412.30" y1="458.30" x2="412.30" y2="460.50" stroke="#333" stroke-width="0.7"/>
<text x="412.30" y="464.20" font-size="3.9" text-anchor="middle" font-weight="bold" fill="#333">15</text>
<text x="378.30" y="469.30" font-size="4.7" text-anchor="middle" font-weight="bold" fill="#222">percentage</text>
<rect x="121.50" y="476.99" width="5.80" height="2.63" fill="#0b2bf2" stroke="#0a1660" stroke-width="0.9"/>
<line x1="119.30" y1="478.30" x2="121.50" y2="478.30" stroke="#333" stroke-width="0.5"/>
<text x="118.50" y="480.27" font-size="5.48" text-anchor="end" fill="#262626" textLength="53.82" lengthAdjust="spacingAndGlyphs">mitotic G1-G1/S phases</text>
<text x="128.10" y="479.70" font-size="3.9" text-anchor="start" font-weight="bold" fill="#2a2a2a">(1.42e-7)</text>
<rect x="121.50" y="481.68" width="5.80" height="2.63" fill="#0b2bf2" stroke="#0a1660" stroke-width="0.9"/>
<line x1="119.30" y1="482.99" x2="121.50" y2="482.99" stroke="#333" stroke-width="0.5"/>
<text x="118.50" y="484.96" font-size="5.48" text-anchor="end" fill="#262626" textLength="68.75" lengthAdjust="spacingAndGlyphs">Rho GTPases activate formins</text>
<text x="128.10" y="484.39" font-size="3.9" text-anchor="start" font-weight="bold" fill="#2a2a2a">(6.84e-12)</text>
<rect x="121.50" y="486.37" width="12.70" height="2.63" fill="#0b2bf2" stroke="#0a1660" stroke-width="0.9"/>
<line x1="119.30" y1="487.68" x2="121.50" y2="487.68" stroke="#333" stroke-width="0.5"/>
<text x="118.50" y="489.65" font-size="5.48" text-anchor="end" fill="#262626" textLength="86.82" lengthAdjust="spacingAndGlyphs">organelle biogenesis and maintenance</text>
<text x="135.00" y="489.08" font-size="3.9" text-anchor="start" font-weight="bold" fill="#2a2a2a">(1.80e-12)</text>
<rect x="121.50" y="491.06" width="9.40" height="2.63" fill="#0b2bf2" stroke="#0a1660" stroke-width="0.9"/>
<line x1="119.30" y1="492.37" x2="121.50" y2="492.37" stroke="#333" stroke-width="0.5"/>
<text x="118.50" y="494.34" font-size="5.48" text-anchor="end" fill="#262626" textLength="74.69" lengthAdjust="spacingAndGlyphs">mitotic metaphase and anaphase</text>
<text x="131.70" y="493.77" font-size="3.9" text-anchor="start" font-weight="bold" fill="#2a2a2a">(1.53e-17)</text>
<rect x="121.50" y="495.75" width="6.80" height="2.63" fill="#0b2bf2" stroke="#0a1660" stroke-width="0.9"/>
<line x1="119.30" y1="497.06" x2="121.50" y2="497.06" stroke="#333" stroke-width="0.5"/>
<text x="118.50" y="499.03" font-size="5.48" text-anchor="end" fill="#262626" textLength="86.52" lengthAdjust="spacingAndGlyphs">resolution of sister chromatid cohesion</text>
<text x="129.10" y="498.46" font-size="3.9" text-anchor="start" font-weight="bold" fill="#2a2a2a">(1.58e-18)</text>
<rect x="121.50" y="500.44" width="9.80" height="2.63" fill="#0b2bf2" stroke="#0a1660" stroke-width="0.9"/>
<line x1="119.30" y1="501.75" x2="121.50" y2="501.75" stroke="#333" stroke-width="0.5"/>
<text x="118.50" y="503.72" font-size="5.48" text-anchor="end" fill="#262626" textLength="32.97" lengthAdjust="spacingAndGlyphs">mRNA splicing</text>
<text x="132.10" y="503.15" font-size="3.9" text-anchor="start" font-weight="bold" fill="#2a2a2a">(1.54e-19)</text>
<rect x="121.50" y="505.13" width="7.00" height="2.63" fill="#0b2bf2" stroke="#0a1660" stroke-width="0.9"/>
<line x1="119.30" y1="506.44" x2="121.50" y2="506.44" stroke="#333" stroke-width="0.5"/>
<text x="118.50" y="508.41" font-size="5.48" text-anchor="end" fill="#262626" textLength="29.87" lengthAdjust="spacingAndGlyphs">mitotic phase</text>
<text x="129.30" y="507.84" font-size="3.9" text-anchor="start" font-weight="bold" fill="#2a2a2a">(3.78e-20)</text>
<rect x="121.50" y="509.82" width="12.30" height="2.63" fill="#0b2bf2" stroke="#0a1660" stroke-width="0.9"/>
<line x1="119.30" y1="511.13" x2="121.50" y2="511.13" stroke="#333" stroke-width="0.5"/>
<text x="118.50" y="513.10" font-size="5.48" text-anchor="end" fill="#262626" textLength="49.87" lengthAdjust="spacingAndGlyphs">processing pre-mRNA</text>
<text x="134.60" y="512.53" font-size="3.9" text-anchor="start" font-weight="bold" fill="#2a2a2a">(2.79e-24)</text>
<rect x="121.50" y="514.51" width="21.30" height="2.63" fill="#0b2bf2" stroke="#0a1660" stroke-width="0.9"/>
<line x1="119.30" y1="515.82" x2="121.50" y2="515.82" stroke="#333" stroke-width="0.5"/>
<text x="118.50" y="517.79" font-size="5.48" text-anchor="end" fill="#262626" textLength="36.62" lengthAdjust="spacingAndGlyphs">mitotic cell cycle</text>
<text x="143.60" y="517.22" font-size="3.9" text-anchor="start" font-weight="bold" fill="#2a2a2a">(2.21e-26)</text>
<rect x="121.50" y="519.20" width="26.30" height="2.63" fill="#0b2bf2" stroke="#0a1660" stroke-width="0.9"/>
<line x1="119.30" y1="520.51" x2="121.50" y2="520.51" stroke="#333" stroke-width="0.5"/>
<text x="118.50" y="522.48" font-size="5.48" text-anchor="end" fill="#262626" textLength="20.57" lengthAdjust="spacingAndGlyphs">cell cycle</text>
<text x="148.60" y="521.91" font-size="3.9" text-anchor="start" font-weight="bold" fill="#2a2a2a">(3.78e-36)</text>
<rect x="121.50" y="523.89" width="59.40" height="2.63" fill="#0b2bf2" stroke="#0a1660" stroke-width="0.9"/>
<line x1="119.30" y1="525.20" x2="121.50" y2="525.20" stroke="#333" stroke-width="0.5"/>
<text x="118.50" y="527.17" font-size="5.48" text-anchor="end" fill="#262626" textLength="37.21" lengthAdjust="spacingAndGlyphs">gene expression</text>
<text x="181.70" y="526.60" font-size="3.9" text-anchor="start" font-weight="bold" fill="#2a2a2a">(4.20e-40)</text>
<line x1="121.50" y1="475.00" x2="121.50" y2="528.20" stroke="#333" stroke-width="0.8"/>
<line x1="121.50" y1="528.20" x2="200.30" y2="528.20" stroke="#333" stroke-width="0.8"/>
<line x1="121.50" y1="528.20" x2="121.50" y2="530.40" stroke="#333" stroke-width="0.7"/>
<text x="121.50" y="534.20" font-size="3.9" text-anchor="middle" font-weight="bold" fill="#333">0</text>
<line x1="147.77" y1="528.20" x2="147.77" y2="530.40" stroke="#333" stroke-width="0.7"/>
<text x="147.77" y="534.20" font-size="3.9" text-anchor="middle" font-weight="bold" fill="#333">5</text>
<line x1="174.03" y1="528.20" x2="174.03" y2="530.40" stroke="#333" stroke-width="0.7"/>
<text x="174.03" y="534.20" font-size="3.9" text-anchor="middle" font-weight="bold" fill="#333">10</text>
<line x1="200.30" y1="528.20" x2="200.30" y2="530.40" stroke="#333" stroke-width="0.7"/>
<text x="200.30" y="534.20" font-size="3.9" text-anchor="middle" font-weight="bold" fill="#333">15</text>
<text x="161.80" y="538.60" font-size="4.7" text-anchor="middle" font-weight="bold" fill="#222">percentage</text>
<rect x="339.50" y="477.07" width="4.80" height="2.87" fill="#ff2a00" stroke="#6a1a0a" stroke-width="0.9"/>
<line x1="337.30" y1="478.50" x2="339.50" y2="478.50" stroke="#333" stroke-width="0.5"/>
<text x="336.50" y="480.47" font-size="5.48" text-anchor="end" fill="#262626" textLength="71.02" lengthAdjust="spacingAndGlyphs">integrin cell surface interactions</text>
<text x="345.10" y="479.90" font-size="3.9" text-anchor="start" font-weight="bold" fill="#2a2a2a">(8.12e-4)</text>
<rect x="339.50" y="482.19" width="8.80" height="2.87" fill="#ff2a00" stroke="#6a1a0a" stroke-width="0.9"/>
<line x1="337.30" y1="483.62" x2="339.50" y2="483.62" stroke="#333" stroke-width="0.5"/>
<text x="336.50" y="485.59" font-size="5.48" text-anchor="end" fill="#262626" textLength="63.97" lengthAdjust="spacingAndGlyphs">G alpha (s) signalling events</text>
<text x="349.10" y="485.03" font-size="3.9" text-anchor="start" font-weight="bold" fill="#2a2a2a">(9.48e-6)</text>
<rect x="339.50" y="487.31" width="4.80" height="2.87" fill="#ff2a00" stroke="#6a1a0a" stroke-width="0.9"/>
<line x1="337.30" y1="488.74" x2="339.50" y2="488.74" stroke="#333" stroke-width="0.5"/>
<text x="336.50" y="490.72" font-size="5.48" text-anchor="end" fill="#262626" textLength="131.59" lengthAdjust="spacingAndGlyphs">assembly of collagen fibrils and other multimeric structures</text>
<text x="345.10" y="490.15" font-size="3.9" text-anchor="start" font-weight="bold" fill="#2a2a2a">(8.18e-6)</text>
<rect x="339.50" y="492.43" width="16.30" height="2.87" fill="#ff2a00" stroke="#6a1a0a" stroke-width="0.9"/>
<line x1="337.30" y1="493.87" x2="339.50" y2="493.87" stroke="#333" stroke-width="0.5"/>
<text x="336.50" y="495.84" font-size="5.48" text-anchor="end" fill="#262626" textLength="71.58" lengthAdjust="spacingAndGlyphs">extracellular matrix organization</text>
<text x="356.60" y="495.27" font-size="3.9" text-anchor="start" font-weight="bold" fill="#2a2a2a">(7.24e-8)</text>
<rect x="339.50" y="497.55" width="4.40" height="2.87" fill="#ff2a00" stroke="#6a1a0a" stroke-width="0.9"/>
<line x1="337.30" y1="498.99" x2="339.50" y2="498.99" stroke="#333" stroke-width="0.5"/>
<text x="336.50" y="500.96" font-size="5.48" text-anchor="end" fill="#262626" textLength="45.08" lengthAdjust="spacingAndGlyphs">NCAM1 interactions</text>
<text x="344.70" y="500.39" font-size="3.9" text-anchor="start" font-weight="bold" fill="#2a2a2a">(2.86e-8)</text>
<rect x="339.50" y="502.68" width="8.40" height="2.87" fill="#ff2a00" stroke="#6a1a0a" stroke-width="0.9"/>
<line x1="337.30" y1="504.11" x2="339.50" y2="504.11" stroke="#333" stroke-width="0.5"/>
<text x="336.50" y="506.08" font-size="5.48" text-anchor="end" fill="#262626" textLength="41.43" lengthAdjust="spacingAndGlyphs">collagen formation</text>
<text x="348.70" y="505.52" font-size="3.9" text-anchor="start" font-weight="bold" fill="#2a2a2a">(8.36e-11)</text>
<rect x="339.50" y="507.80" width="56.10" height="2.87" fill="#ff2a00" stroke="#6a1a0a" stroke-width="0.9"/>
<line x1="337.30" y1="509.23" x2="339.50" y2="509.23" stroke="#333" stroke-width="0.5"/>
<text x="336.50" y="511.20" font-size="5.48" text-anchor="end" fill="#262626" textLength="42.83" lengthAdjust="spacingAndGlyphs">signaling by GPCR</text>
<text x="396.40" y="510.64" font-size="3.9" text-anchor="start" font-weight="bold" fill="#2a2a2a">(1.81e-11)</text>
<rect x="339.50" y="512.92" width="25.30" height="2.87" fill="#ff2a00" stroke="#6a1a0a" stroke-width="0.9"/>
<line x1="337.30" y1="514.36" x2="339.50" y2="514.36" stroke="#333" stroke-width="0.5"/>
<text x="336.50" y="516.33" font-size="5.48" text-anchor="end" fill="#262626" textLength="47.35" lengthAdjust="spacingAndGlyphs">GPCR ligand binding</text>
<text x="365.60" y="515.76" font-size="3.9" text-anchor="start" font-weight="bold" fill="#2a2a2a">(2.41e-12)</text>
<rect x="339.50" y="518.04" width="8.40" height="2.87" fill="#ff2a00" stroke="#6a1a0a" stroke-width="0.9"/>
<line x1="337.30" y1="519.48" x2="339.50" y2="519.48" stroke="#333" stroke-width="0.5"/>
<text x="336.50" y="521.45" font-size="5.48" text-anchor="end" fill="#262626" textLength="102.87" lengthAdjust="spacingAndGlyphs">collagen biosynthesis and modifying enzymes</text>
<text x="348.70" y="520.88" font-size="3.9" text-anchor="start" font-weight="bold" fill="#2a2a2a">(2.23e-14)</text>
<rect x="339.50" y="523.17" width="6.80" height="2.87" fill="#ff2a00" stroke="#6a1a0a" stroke-width="0.9"/>
<line x1="337.30" y1="524.60" x2="339.50" y2="524.60" stroke="#333" stroke-width="0.5"/>
<text x="336.50" y="526.57" font-size="5.48" text-anchor="end" fill="#262626" textLength="61.44" lengthAdjust="spacingAndGlyphs">collagen chain trimerization</text>
<text x="347.10" y="526.00" font-size="3.9" text-anchor="start" font-weight="bold" fill="#2a2a2a">(1.65e-16)</text>
<line x1="339.50" y1="475.00" x2="339.50" y2="529.00" stroke="#333" stroke-width="0.8"/>
<line x1="339.50" y1="529.00" x2="419.40" y2="529.00" stroke="#333" stroke-width="0.8"/>
<line x1="339.50" y1="529.00" x2="339.50" y2="531.20" stroke="#333" stroke-width="0.7"/>
<text x="339.50" y="534.80" font-size="3.9" text-anchor="middle" font-weight="bold" fill="#333">0</text>
<line x1="359.48" y1="529.00" x2="359.48" y2="531.20" stroke="#333" stroke-width="0.7"/>
<text x="359.48" y="534.80" font-size="3.9" text-anchor="middle" font-weight="bold" fill="#333">2</text>
<line x1="379.45" y1="529.00" x2="379.45" y2="531.20" stroke="#333" stroke-width="0.7"/>
<text x="379.45" y="534.80" font-size="3.9" text-anchor="middle" font-weight="bold" fill="#333">4</text>
<line x1="399.42" y1="529.00" x2="399.42" y2="531.20" stroke="#333" stroke-width="0.7"/>
<text x="399.42" y="534.80" font-size="3.9" text-anchor="middle" font-weight="bold" fill="#333">6</text>
<line x1="419.40" y1="529.00" x2="419.40" y2="531.20" stroke="#333" stroke-width="0.7"/>
<text x="419.40" y="534.80" font-size="3.9" text-anchor="middle" font-weight="bold" fill="#333">8</text>
<text x="381.20" y="540.00" font-size="4.7" text-anchor="middle" font-weight="bold" fill="#222">percentage</text>
</svg>
</body></html>
